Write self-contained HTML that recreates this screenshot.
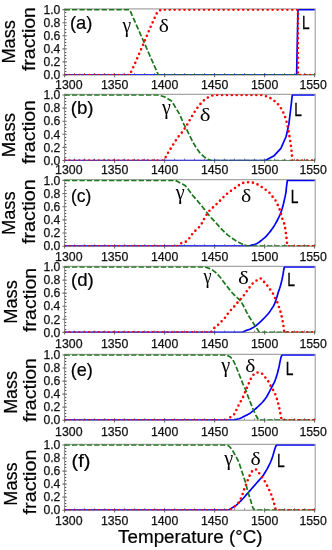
<!DOCTYPE html>
<html><head><meta charset="utf-8"><title>Mass fraction vs temperature</title>
<style>html,body{margin:0;padding:0;background:#fff;overflow:hidden}svg{display:block}</style></head>
<body><svg width="332" height="550" viewBox="0 0 332 550">
<defs><clipPath id="cp0"><rect x="64.6" y="8.9" width="251.6" height="66.2"/></clipPath><clipPath id="cp1"><rect x="64.6" y="94.3" width="251.6" height="66.3"/></clipPath><clipPath id="cp2"><rect x="64.6" y="179.7" width="251.6" height="66.6"/></clipPath><clipPath id="cp3"><rect x="64.6" y="266.3" width="251.6" height="66.2"/></clipPath><clipPath id="cp4"><rect x="64.6" y="354.3" width="251.6" height="66"/></clipPath><clipPath id="cp5"><rect x="64.6" y="444.3" width="251.6" height="66"/></clipPath></defs>
<rect width="332" height="550" fill="#fff"/>
<g><path d="M64.6 8.9H315.2V75" stroke="#a6a6a6" stroke-width="1.2" fill="none"/><path d="M64.6 8.4V75H315.2" stroke="#8a8a8a" stroke-width="1" fill="none"/><path d="M62.4 75H66.8 M62.4 61.92H66.8 M62.4 48.84H66.8 M62.4 35.76H66.8 M62.4 22.68H66.8 M62.4 9.6H66.8 M64.6 73V77.2 M114.6 73V77.2 M164.6 73V77.2 M214.6 73V77.2 M264.6 73V77.2 M314.6 73V77.2" stroke="#6e6e6e" stroke-width="1.1" fill="none"/><path d="M65 71.5H66.3 M65 68.5H66.3 M65 65.5H66.3 M65 58.5H66.3 M65 55.5H66.3 M65 52.5H66.3 M65 45.5H66.3 M65 42.5H66.3 M65 39.5H66.3 M65 32.5H66.3 M65 29.5H66.3 M65 25.5H66.3 M65 19.5H66.3 M65 16.5H66.3 M65 12.5H66.3" stroke="#505050" stroke-width="1" fill="none"/><text x="60.4" y="79.2" text-anchor="end" font-size="12.2" font-family="Liberation Sans, sans-serif" fill="#111" stroke="#111" stroke-width="0.25">0.0</text><text x="60.4" y="66.12" text-anchor="end" font-size="12.2" font-family="Liberation Sans, sans-serif" fill="#111" stroke="#111" stroke-width="0.25">0.2</text><text x="60.4" y="53.04" text-anchor="end" font-size="12.2" font-family="Liberation Sans, sans-serif" fill="#111" stroke="#111" stroke-width="0.25">0.4</text><text x="60.4" y="39.96" text-anchor="end" font-size="12.2" font-family="Liberation Sans, sans-serif" fill="#111" stroke="#111" stroke-width="0.25">0.6</text><text x="60.4" y="26.88" text-anchor="end" font-size="12.2" font-family="Liberation Sans, sans-serif" fill="#111" stroke="#111" stroke-width="0.25">0.8</text><text x="60.4" y="13.8" text-anchor="end" font-size="12.2" font-family="Liberation Sans, sans-serif" fill="#111" stroke="#111" stroke-width="0.25">1.0</text><text x="68.8" y="89.3" text-anchor="middle" font-size="12.3" font-family="Liberation Sans, sans-serif" textLength="27.4" lengthAdjust="spacingAndGlyphs" fill="#111" stroke="#111" stroke-width="0.25">1300</text><text x="114.6" y="89.3" text-anchor="middle" font-size="12.3" font-family="Liberation Sans, sans-serif" textLength="27.4" lengthAdjust="spacingAndGlyphs" fill="#111" stroke="#111" stroke-width="0.25">1350</text><text x="164.6" y="89.3" text-anchor="middle" font-size="12.3" font-family="Liberation Sans, sans-serif" textLength="27.4" lengthAdjust="spacingAndGlyphs" fill="#111" stroke="#111" stroke-width="0.25">1400</text><text x="214.6" y="89.3" text-anchor="middle" font-size="12.3" font-family="Liberation Sans, sans-serif" textLength="27.4" lengthAdjust="spacingAndGlyphs" fill="#111" stroke="#111" stroke-width="0.25">1450</text><text x="264.6" y="89.3" text-anchor="middle" font-size="12.3" font-family="Liberation Sans, sans-serif" textLength="27.4" lengthAdjust="spacingAndGlyphs" fill="#111" stroke="#111" stroke-width="0.25">1500</text><text x="313.1" y="89.3" text-anchor="middle" font-size="12.3" font-family="Liberation Sans, sans-serif" textLength="27.4" lengthAdjust="spacingAndGlyphs" fill="#111" stroke="#111" stroke-width="0.25">1550</text><g clip-path="url(#cp0)"><path d="M64.6 75 L296.6 75 L298 9.6 L314.6 9.6" stroke="#0000ff" stroke-width="1.7" fill="none" stroke-linejoin="round"/><path d="M64.6 9.6 L129.6 9.6 L158.4 75 L314.6 75" stroke="#1a761a" stroke-width="1.7" fill="none" stroke-dasharray="5.3 2.1"/><path d="M64.6 75 L129.6 75 L135 63.4 L143.6 43.5 L150.9 26.2 L157.5 11.6 L161.5 9.6 L297.9 9.6 L297.9 75 L314.6 75" stroke="#ff0000" stroke-width="2.6" fill="none" stroke-dasharray="0 4.9" stroke-linecap="round"/></g><path d="M74.6 73.2V74.4 M84.6 73.2V74.4 M94.6 73.2V74.4 M104.6 73.2V74.4 M124.6 73.2V74.4 M134.6 73.2V74.4 M144.6 73.2V74.4 M154.6 73.2V74.4 M174.6 73.2V74.4 M184.6 73.2V74.4 M194.6 73.2V74.4 M204.6 73.2V74.4 M224.6 73.2V74.4 M234.6 73.2V74.4 M244.6 73.2V74.4 M254.6 73.2V74.4 M274.6 73.2V74.4 M284.6 73.2V74.4 M294.6 73.2V74.4 M304.6 73.2V74.4" stroke="#4a4a66" stroke-width="0.9" fill="none"/><text x="69.9" y="29.04" font-size="19" font-family="Liberation Sans, sans-serif" textLength="22.44" lengthAdjust="spacingAndGlyphs" fill="#000" stroke="#000" stroke-width="0.2">(a)</text><text x="122.5" y="32.18" font-size="21" font-family="Liberation Serif, serif" textLength="8.63" lengthAdjust="spacingAndGlyphs" fill="#000">γ</text><text x="158.74" y="31.72" font-size="19.2" font-family="Liberation Serif, serif" textLength="10.15" lengthAdjust="spacingAndGlyphs" fill="#000">δ</text><text x="302.06" y="29.48" font-size="18.5" font-family="Liberation Sans, sans-serif" textLength="7.59" lengthAdjust="spacingAndGlyphs" fill="#000" stroke="#000" stroke-width="0.3">L</text><text transform="translate(15.1 62.1) rotate(-90)" x="-1.46" y="0" font-size="18" font-family="Liberation Sans, sans-serif" textLength="43.47" lengthAdjust="spacingAndGlyphs" fill="#000" stroke="#000" stroke-width="0.2">Mass</text><text transform="translate(35.1 70.9) rotate(-90)" x="-0.2" y="0" font-size="18" font-family="Liberation Sans, sans-serif" textLength="64.05" lengthAdjust="spacingAndGlyphs" fill="#000" stroke="#000" stroke-width="0.2">fraction</text></g>
<g><path d="M64.6 94.3H315.2V160.5" stroke="#a6a6a6" stroke-width="1.2" fill="none"/><path d="M64.6 93.8V160.5H315.2" stroke="#8a8a8a" stroke-width="1" fill="none"/><path d="M62.4 160.5H66.8 M62.4 147.4H66.8 M62.4 134.3H66.8 M62.4 121.2H66.8 M62.4 108.1H66.8 M62.4 95H66.8 M64.6 158.5V162.7 M114.6 158.5V162.7 M164.6 158.5V162.7 M214.6 158.5V162.7 M264.6 158.5V162.7 M314.6 158.5V162.7" stroke="#6e6e6e" stroke-width="1.1" fill="none"/><path d="M65 157.5H66.3 M65 153.5H66.3 M65 150.5H66.3 M65 144.5H66.3 M65 140.5H66.3 M65 137.5H66.3 M65 131.5H66.3 M65 127.5H66.3 M65 124.5H66.3 M65 117.5H66.3 M65 114.5H66.3 M65 111.5H66.3 M65 104.5H66.3 M65 101.5H66.3 M65 98.5H66.3" stroke="#505050" stroke-width="1" fill="none"/><text x="60.4" y="164.7" text-anchor="end" font-size="12.2" font-family="Liberation Sans, sans-serif" fill="#111" stroke="#111" stroke-width="0.25">0.0</text><text x="60.4" y="151.6" text-anchor="end" font-size="12.2" font-family="Liberation Sans, sans-serif" fill="#111" stroke="#111" stroke-width="0.25">0.2</text><text x="60.4" y="138.5" text-anchor="end" font-size="12.2" font-family="Liberation Sans, sans-serif" fill="#111" stroke="#111" stroke-width="0.25">0.4</text><text x="60.4" y="125.4" text-anchor="end" font-size="12.2" font-family="Liberation Sans, sans-serif" fill="#111" stroke="#111" stroke-width="0.25">0.6</text><text x="60.4" y="112.3" text-anchor="end" font-size="12.2" font-family="Liberation Sans, sans-serif" fill="#111" stroke="#111" stroke-width="0.25">0.8</text><text x="60.4" y="99.2" text-anchor="end" font-size="12.2" font-family="Liberation Sans, sans-serif" fill="#111" stroke="#111" stroke-width="0.25">1.0</text><text x="68.8" y="174.4" text-anchor="middle" font-size="12.3" font-family="Liberation Sans, sans-serif" textLength="27.4" lengthAdjust="spacingAndGlyphs" fill="#111" stroke="#111" stroke-width="0.25">1300</text><text x="114.6" y="174.4" text-anchor="middle" font-size="12.3" font-family="Liberation Sans, sans-serif" textLength="27.4" lengthAdjust="spacingAndGlyphs" fill="#111" stroke="#111" stroke-width="0.25">1350</text><text x="164.6" y="174.4" text-anchor="middle" font-size="12.3" font-family="Liberation Sans, sans-serif" textLength="27.4" lengthAdjust="spacingAndGlyphs" fill="#111" stroke="#111" stroke-width="0.25">1400</text><text x="214.6" y="174.4" text-anchor="middle" font-size="12.3" font-family="Liberation Sans, sans-serif" textLength="27.4" lengthAdjust="spacingAndGlyphs" fill="#111" stroke="#111" stroke-width="0.25">1450</text><text x="264.6" y="174.4" text-anchor="middle" font-size="12.3" font-family="Liberation Sans, sans-serif" textLength="27.4" lengthAdjust="spacingAndGlyphs" fill="#111" stroke="#111" stroke-width="0.25">1500</text><text x="313.1" y="174.4" text-anchor="middle" font-size="12.3" font-family="Liberation Sans, sans-serif" textLength="27.4" lengthAdjust="spacingAndGlyphs" fill="#111" stroke="#111" stroke-width="0.25">1550</text><g clip-path="url(#cp1)"><path d="M64.6 160.5 L265.2 160.5 L273.7 156.1 L280.9 148.3 L286.1 136.5 L288.8 124.7 L290.7 109 L292.3 95 L314.6 95" stroke="#0000ff" stroke-width="1.7" fill="none" stroke-linejoin="round"/><path d="M64.6 95 L157.8 95 L163.6 96.5 L167.8 98.8 L171.4 101 L174.2 105.2 L176.1 108.6 L178 111.6 L179.8 114.6 L183.9 124.5 L186.2 128.6 L188.8 133.8 L192.6 141.5 L196.5 148.2 L200.3 153.5 L204.2 156.9 L208.1 159.3 L210.8 160.5 L314.6 160.5" stroke="#1a761a" stroke-width="1.7" fill="none" stroke-dasharray="5.3 2.1"/><path d="M64.6 160.5 L65.6 160.5 L66.59 160.5 L67.59 160.5 L68.58 160.5 L69.58 160.5 L70.58 160.5 L71.57 160.5 L72.57 160.5 L73.56 160.5 L74.56 160.5 L75.56 160.5 L76.55 160.5 L77.55 160.5 L78.54 160.5 L79.54 160.5 L80.54 160.5 L81.53 160.5 L82.53 160.5 L83.52 160.5 L84.52 160.5 L85.52 160.5 L86.51 160.5 L87.51 160.5 L88.5 160.5 L89.5 160.5 L90.49 160.5 L91.49 160.5 L92.49 160.5 L93.48 160.5 L94.48 160.5 L95.47 160.5 L96.47 160.5 L97.47 160.5 L98.46 160.5 L99.46 160.5 L100.45 160.5 L101.45 160.5 L102.45 160.5 L103.44 160.5 L104.44 160.5 L105.43 160.5 L106.43 160.5 L107.43 160.5 L108.42 160.5 L109.42 160.5 L110.41 160.5 L111.41 160.5 L112.41 160.5 L113.4 160.5 L114.4 160.5 L115.39 160.5 L116.39 160.5 L117.39 160.5 L118.38 160.5 L119.38 160.5 L120.37 160.5 L121.37 160.5 L122.37 160.5 L123.36 160.5 L124.36 160.5 L125.35 160.5 L126.35 160.5 L127.35 160.5 L128.34 160.5 L129.34 160.5 L130.33 160.5 L131.33 160.5 L132.33 160.5 L133.32 160.5 L134.32 160.5 L135.31 160.5 L136.31 160.5 L137.31 160.5 L138.3 160.5 L139.3 160.5 L140.29 160.5 L141.29 160.5 L142.28 160.5 L143.28 160.5 L144.28 160.5 L145.27 160.5 L146.27 160.5 L147.26 160.5 L148.26 160.5 L149.26 160.5 L150.25 160.5 L151.25 160.5 L152.24 160.5 L153.24 160.5 L154.24 160.5 L155.23 160.5 L156.23 160.5 L157.22 160.5 L158.22 160.5 L159.22 160.5 L160.21 160.5 L161.21 160.5 L162.2 160.5 L163.2 160.5 L164.2 159.82 L165.2 158.15 L166.2 156.09 L167.2 154.2 L168.12 152.71 L169.03 151.2 L169.95 149.67 L170.87 148.16 L171.78 146.66 L172.7 145.2 L173.6 143.79 L174.5 142.39 L175.4 141 L176.3 139.65 L177.2 138.34 L178.1 137.1 L179 135.95 L179.9 134.88 L180.8 133.83 L181.7 132.76 L182.6 131.6 L183.5 130.34 L184.4 129.02 L185.3 127.63 L186.2 126.2 L187.1 124.69 L188 123.1 L188.9 121.49 L189.8 119.9 L190.73 118.3 L191.65 116.7 L192.57 115.12 L193.5 113.6 L194.4 112.16 L195.3 110.74 L196.2 109.38 L197.1 108.1 L198 106.89 L198.9 105.73 L199.8 104.63 L200.7 103.6 L201.6 102.61 L202.5 101.67 L203.4 100.79 L204.3 100 L205.23 99.26 L206.15 98.58 L207.07 97.95 L208 97.4 L209 96.87 L210 96.4 L211 96 L211.88 95.67 L212.75 95.34 L213.62 95.1 L214.5 95 L215.48 95 L216.46 95 L217.44 95 L218.42 95 L219.4 95 L220.39 95 L221.37 95 L222.35 95 L223.33 95 L224.31 95 L225.29 95 L226.27 95 L227.25 95 L228.23 95 L229.21 95 L230.19 95 L231.17 95 L232.16 95 L233.14 95 L234.12 95 L235.1 95 L236.08 95 L237.06 95 L238.04 95 L239.02 95 L240 95 L240.98 95 L241.96 95 L242.94 95 L243.93 95 L244.91 95 L245.89 95 L246.87 95 L247.85 95 L248.83 95 L249.81 95 L250.79 95 L251.77 95 L252.75 95 L253.73 95 L254.71 95 L255.7 95 L256.68 95 L257.66 95 L258.64 95 L259.62 95 L260.6 95 L261.59 95.05 L262.58 95.2 L263.56 95.42 L264.55 95.71 L265.54 96.05 L266.52 96.42 L267.51 96.81 L268.5 97.2 L269.48 97.63 L270.45 98.13 L271.43 98.7 L272.4 99.35 L273.38 100.05 L274.35 100.82 L275.32 101.63 L276.3 102.5 L277.28 103.46 L278.27 104.55 L279.25 105.78 L280.23 107.15 L281.22 108.65 L282.2 110.3 L283.02 111.88 L283.85 113.72 L284.68 115.83 L285.5 118.2 L286.37 121.14 L287.23 124.63 L288.1 128.6 L289.1 134.08 L290.1 140.4 L290.75 144.64 L291.4 149.6 L292.4 160.5 L293.37 160.5 L294.33 160.5 L295.3 160.5 L296.26 160.5 L297.23 160.5 L298.19 160.5 L299.16 160.5 L300.12 160.5 L301.09 160.5 L302.05 160.5 L303.02 160.5 L303.98 160.5 L304.95 160.5 L305.91 160.5 L306.88 160.5 L307.84 160.5 L308.81 160.5 L309.77 160.5 L310.74 160.5 L311.7 160.5 L312.67 160.5 L313.63 160.5 L314.6 160.5" stroke="#ff0000" stroke-width="2.6" fill="none" stroke-dasharray="0 4.9" stroke-linecap="round"/></g><path d="M74.6 158.7V159.9 M84.6 158.7V159.9 M94.6 158.7V159.9 M104.6 158.7V159.9 M124.6 158.7V159.9 M134.6 158.7V159.9 M144.6 158.7V159.9 M154.6 158.7V159.9 M174.6 158.7V159.9 M184.6 158.7V159.9 M194.6 158.7V159.9 M204.6 158.7V159.9 M224.6 158.7V159.9 M234.6 158.7V159.9 M244.6 158.7V159.9 M254.6 158.7V159.9 M274.6 158.7V159.9 M284.6 158.7V159.9 M294.6 158.7V159.9 M304.6 158.7V159.9" stroke="#4a4a66" stroke-width="0.9" fill="none"/><text x="70.68" y="114.39" font-size="19" font-family="Liberation Sans, sans-serif" textLength="22.89" lengthAdjust="spacingAndGlyphs" fill="#000" stroke="#000" stroke-width="0.2">(b)</text><text x="162.1" y="114.17" font-size="21" font-family="Liberation Serif, serif" textLength="8.84" lengthAdjust="spacingAndGlyphs" fill="#000">γ</text><text x="199.69" y="121.27" font-size="19.2" font-family="Liberation Serif, serif" textLength="10.75" lengthAdjust="spacingAndGlyphs" fill="#000">δ</text><text x="294.16" y="115.53" font-size="18.5" font-family="Liberation Sans, sans-serif" textLength="7.59" lengthAdjust="spacingAndGlyphs" fill="#000" stroke="#000" stroke-width="0.3">L</text><text transform="translate(15.4 155.9) rotate(-90)" x="-1.48" y="0" font-size="18" font-family="Liberation Sans, sans-serif" textLength="44.31" lengthAdjust="spacingAndGlyphs" fill="#000" stroke="#000" stroke-width="0.2">Mass</text><text transform="translate(34.8 163.9) rotate(-90)" x="-0.2" y="0" font-size="18" font-family="Liberation Sans, sans-serif" textLength="64.05" lengthAdjust="spacingAndGlyphs" fill="#000" stroke="#000" stroke-width="0.2">fraction</text></g>
<g><path d="M64.6 179.7H315.2V246.2" stroke="#a6a6a6" stroke-width="1.2" fill="none"/><path d="M64.6 179.2V246.2H315.2" stroke="#8a8a8a" stroke-width="1" fill="none"/><path d="M62.4 246.2H66.8 M62.4 233.04H66.8 M62.4 219.88H66.8 M62.4 206.72H66.8 M62.4 193.56H66.8 M62.4 180.4H66.8 M64.6 244.2V248.4 M114.6 244.2V248.4 M164.6 244.2V248.4 M214.6 244.2V248.4 M264.6 244.2V248.4 M314.6 244.2V248.4" stroke="#6e6e6e" stroke-width="1.1" fill="none"/><path d="M65 242.5H66.3 M65 239.5H66.3 M65 236.5H66.3 M65 229.5H66.3 M65 226.5H66.3 M65 223.5H66.3 M65 216.5H66.3 M65 213.5H66.3 M65 210.5H66.3 M65 203.5H66.3 M65 200.5H66.3 M65 196.5H66.3 M65 190.5H66.3 M65 186.5H66.3 M65 183.5H66.3" stroke="#505050" stroke-width="1" fill="none"/><text x="60.4" y="250.4" text-anchor="end" font-size="12.2" font-family="Liberation Sans, sans-serif" fill="#111" stroke="#111" stroke-width="0.25">0.0</text><text x="60.4" y="237.24" text-anchor="end" font-size="12.2" font-family="Liberation Sans, sans-serif" fill="#111" stroke="#111" stroke-width="0.25">0.2</text><text x="60.4" y="224.08" text-anchor="end" font-size="12.2" font-family="Liberation Sans, sans-serif" fill="#111" stroke="#111" stroke-width="0.25">0.4</text><text x="60.4" y="210.92" text-anchor="end" font-size="12.2" font-family="Liberation Sans, sans-serif" fill="#111" stroke="#111" stroke-width="0.25">0.6</text><text x="60.4" y="197.76" text-anchor="end" font-size="12.2" font-family="Liberation Sans, sans-serif" fill="#111" stroke="#111" stroke-width="0.25">0.8</text><text x="60.4" y="184.6" text-anchor="end" font-size="12.2" font-family="Liberation Sans, sans-serif" fill="#111" stroke="#111" stroke-width="0.25">1.0</text><text x="68.8" y="260.6" text-anchor="middle" font-size="12.3" font-family="Liberation Sans, sans-serif" textLength="27.4" lengthAdjust="spacingAndGlyphs" fill="#111" stroke="#111" stroke-width="0.25">1300</text><text x="114.6" y="260.6" text-anchor="middle" font-size="12.3" font-family="Liberation Sans, sans-serif" textLength="27.4" lengthAdjust="spacingAndGlyphs" fill="#111" stroke="#111" stroke-width="0.25">1350</text><text x="164.6" y="260.6" text-anchor="middle" font-size="12.3" font-family="Liberation Sans, sans-serif" textLength="27.4" lengthAdjust="spacingAndGlyphs" fill="#111" stroke="#111" stroke-width="0.25">1400</text><text x="214.6" y="260.6" text-anchor="middle" font-size="12.3" font-family="Liberation Sans, sans-serif" textLength="27.4" lengthAdjust="spacingAndGlyphs" fill="#111" stroke="#111" stroke-width="0.25">1450</text><text x="264.6" y="260.6" text-anchor="middle" font-size="12.3" font-family="Liberation Sans, sans-serif" textLength="27.4" lengthAdjust="spacingAndGlyphs" fill="#111" stroke="#111" stroke-width="0.25">1500</text><text x="313.1" y="260.6" text-anchor="middle" font-size="12.3" font-family="Liberation Sans, sans-serif" textLength="27.4" lengthAdjust="spacingAndGlyphs" fill="#111" stroke="#111" stroke-width="0.25">1550</text><g clip-path="url(#cp2)"><path d="M64.6 246.2 L65.6 246.2 L66.6 246.2 L67.6 246.2 L68.6 246.2 L69.6 246.2 L70.6 246.2 L71.6 246.2 L72.6 246.2 L73.6 246.2 L74.59 246.2 L75.59 246.2 L76.59 246.2 L77.59 246.2 L78.59 246.2 L79.59 246.2 L80.59 246.2 L81.59 246.2 L82.59 246.2 L83.59 246.2 L84.59 246.2 L85.59 246.2 L86.59 246.2 L87.59 246.2 L88.59 246.2 L89.59 246.2 L90.59 246.2 L91.59 246.2 L92.58 246.2 L93.58 246.2 L94.58 246.2 L95.58 246.2 L96.58 246.2 L97.58 246.2 L98.58 246.2 L99.58 246.2 L100.58 246.2 L101.58 246.2 L102.58 246.2 L103.58 246.2 L104.58 246.2 L105.58 246.2 L106.58 246.2 L107.58 246.2 L108.58 246.2 L109.58 246.2 L110.57 246.2 L111.57 246.2 L112.57 246.2 L113.57 246.2 L114.57 246.2 L115.57 246.2 L116.57 246.2 L117.57 246.2 L118.57 246.2 L119.57 246.2 L120.57 246.2 L121.57 246.2 L122.57 246.2 L123.57 246.2 L124.57 246.2 L125.57 246.2 L126.57 246.2 L127.57 246.2 L128.56 246.2 L129.56 246.2 L130.56 246.2 L131.56 246.2 L132.56 246.2 L133.56 246.2 L134.56 246.2 L135.56 246.2 L136.56 246.2 L137.56 246.2 L138.56 246.2 L139.56 246.2 L140.56 246.2 L141.56 246.2 L142.56 246.2 L143.56 246.2 L144.56 246.2 L145.56 246.2 L146.55 246.2 L147.55 246.2 L148.55 246.2 L149.55 246.2 L150.55 246.2 L151.55 246.2 L152.55 246.2 L153.55 246.2 L154.55 246.2 L155.55 246.2 L156.55 246.2 L157.55 246.2 L158.55 246.2 L159.55 246.2 L160.55 246.2 L161.55 246.2 L162.55 246.2 L163.55 246.2 L164.55 246.2 L165.54 246.2 L166.54 246.2 L167.54 246.2 L168.54 246.2 L169.54 246.2 L170.54 246.2 L171.54 246.2 L172.54 246.2 L173.54 246.2 L174.54 246.2 L175.54 246.2 L176.54 246.2 L177.54 246.2 L178.54 246.2 L179.54 246.2 L180.54 246.2 L181.54 246.2 L182.54 246.2 L183.53 246.2 L184.53 246.2 L185.53 246.2 L186.53 246.2 L187.53 246.2 L188.53 246.2 L189.53 246.2 L190.53 246.2 L191.53 246.2 L192.53 246.2 L193.53 246.2 L194.53 246.2 L195.53 246.2 L196.53 246.2 L197.53 246.2 L198.53 246.2 L199.53 246.2 L200.53 246.2 L201.52 246.2 L202.52 246.2 L203.52 246.2 L204.52 246.2 L205.52 246.2 L206.52 246.2 L207.52 246.2 L208.52 246.2 L209.52 246.2 L210.52 246.2 L211.52 246.2 L212.52 246.2 L213.52 246.2 L214.52 246.2 L215.52 246.2 L216.52 246.2 L217.52 246.2 L218.52 246.2 L219.51 246.2 L220.51 246.2 L221.51 246.2 L222.51 246.2 L223.51 246.2 L224.51 246.2 L225.51 246.2 L226.51 246.2 L227.51 246.2 L228.51 246.2 L229.51 246.2 L230.51 246.2 L231.51 246.2 L232.51 246.2 L233.51 246.2 L234.51 246.2 L235.51 246.2 L236.51 246.2 L237.5 246.2 L238.5 246.2 L239.5 246.2 L240.5 246.2 L241.5 246.2 L242.5 246.2 L243.5 246.2 L244.5 246.2 L245.5 246.2 L246.5 246.2 L247.42 246.15 L248.33 246.02 L249.25 245.82 L250.17 245.59 L251.08 245.34 L252 245.1 L252.92 244.86 L253.84 244.6 L254.76 244.31 L255.68 243.98 L256.6 243.6 L257.5 243.14 L258.4 242.58 L259.3 241.95 L260.2 241.28 L261.1 240.6 L262 239.92 L262.9 239.2 L263.8 238.45 L264.7 237.65 L265.6 236.8 L266.5 235.88 L267.4 234.88 L268.3 233.83 L269.2 232.73 L270.1 231.6 L271.05 230.37 L272 229.09 L272.95 227.74 L273.9 226.3 L274.9 224.65 L275.9 222.86 L276.9 221 L277.9 219.14 L278.9 217.19 L279.9 215 L280.67 213.07 L281.43 210.91 L282.2 208.5 L283.15 204.98 L284.1 201 L285 197.18 L285.9 192.6 L286.65 185.38 L287.4 180.4 L288.37 180.4 L289.34 180.4 L290.31 180.4 L291.29 180.4 L292.26 180.4 L293.23 180.4 L294.2 180.4 L295.17 180.4 L296.14 180.4 L297.11 180.4 L298.09 180.4 L299.06 180.4 L300.03 180.4 L301 180.4 L301.97 180.4 L302.94 180.4 L303.91 180.4 L304.89 180.4 L305.86 180.4 L306.83 180.4 L307.8 180.4 L308.77 180.4 L309.74 180.4 L310.71 180.4 L311.69 180.4 L312.66 180.4 L313.63 180.4 L314.6 180.4" stroke="#0000ff" stroke-width="1.7" fill="none" stroke-linejoin="round"/><path d="M64.6 180.4 L65.6 180.4 L66.6 180.4 L67.6 180.4 L68.6 180.4 L69.6 180.4 L70.59 180.4 L71.59 180.4 L72.59 180.4 L73.59 180.4 L74.59 180.4 L75.59 180.4 L76.59 180.4 L77.59 180.4 L78.59 180.4 L79.59 180.4 L80.59 180.4 L81.58 180.4 L82.58 180.4 L83.58 180.4 L84.58 180.4 L85.58 180.4 L86.58 180.4 L87.58 180.4 L88.58 180.4 L89.58 180.4 L90.58 180.4 L91.58 180.4 L92.57 180.4 L93.57 180.4 L94.57 180.4 L95.57 180.4 L96.57 180.4 L97.57 180.4 L98.57 180.4 L99.57 180.4 L100.57 180.4 L101.57 180.4 L102.57 180.4 L103.56 180.4 L104.56 180.4 L105.56 180.4 L106.56 180.4 L107.56 180.4 L108.56 180.4 L109.56 180.4 L110.56 180.4 L111.56 180.4 L112.56 180.4 L113.56 180.4 L114.55 180.4 L115.55 180.4 L116.55 180.4 L117.55 180.4 L118.55 180.4 L119.55 180.4 L120.55 180.4 L121.55 180.4 L122.55 180.4 L123.55 180.4 L124.55 180.4 L125.54 180.4 L126.54 180.4 L127.54 180.4 L128.54 180.4 L129.54 180.4 L130.54 180.4 L131.54 180.4 L132.54 180.4 L133.54 180.4 L134.54 180.4 L135.54 180.4 L136.53 180.4 L137.53 180.4 L138.53 180.4 L139.53 180.4 L140.53 180.4 L141.53 180.4 L142.53 180.4 L143.53 180.4 L144.53 180.4 L145.53 180.4 L146.53 180.4 L147.52 180.4 L148.52 180.4 L149.52 180.4 L150.52 180.4 L151.52 180.4 L152.52 180.4 L153.52 180.4 L154.52 180.4 L155.52 180.4 L156.52 180.4 L157.52 180.4 L158.51 180.4 L159.51 180.4 L160.51 180.4 L161.51 180.4 L162.51 180.4 L163.51 180.4 L164.51 180.4 L165.51 180.4 L166.51 180.4 L167.51 180.4 L168.51 180.4 L169.5 180.4 L170.5 180.4 L171.5 180.4 L172.5 180.4 L173.5 180.4 L174.5 180.4 L175.38 180.52 L176.27 180.83 L177.15 181.28 L178.03 181.8 L178.92 182.33 L179.8 182.8 L180.67 183.2 L181.53 183.59 L182.4 183.98 L183.27 184.41 L184.13 184.91 L185 185.5 L185.9 186.35 L186.8 187.45 L187.7 188.6 L188.54 189.7 L189.38 190.89 L190.22 192.1 L191.06 193.29 L191.9 194.4 L192.82 195.53 L193.75 196.6 L194.68 197.64 L195.6 198.7 L196.38 199.6 L197.15 200.49 L197.92 201.39 L198.7 202.3 L199.62 203.4 L200.53 204.53 L201.45 205.66 L202.37 206.8 L203.28 207.95 L204.2 209.1 L205.2 210.37 L206.2 211.68 L207.2 212.98 L208.2 214.27 L209.2 215.52 L210.2 216.7 L211.06 217.65 L211.92 218.54 L212.78 219.41 L213.64 220.29 L214.5 221.2 L215.5 222.31 L216.5 223.46 L217.5 224.62 L218.5 225.78 L219.5 226.92 L220.5 228 L221.37 228.92 L222.24 229.82 L223.11 230.72 L223.99 231.59 L224.86 232.43 L225.73 233.24 L226.6 234 L227.6 234.83 L228.6 235.62 L229.6 236.37 L230.6 237.1 L231.6 237.81 L232.6 238.5 L233.6 239.19 L234.6 239.86 L235.6 240.52 L236.6 241.15 L237.6 241.75 L238.6 242.3 L239.6 242.82 L240.6 243.31 L241.6 243.77 L242.6 244.21 L243.6 244.62 L244.6 245 L245.57 245.39 L246.55 245.78 L247.53 246.08 L248.5 246.2 L249.49 246.2 L250.47 246.2 L251.46 246.2 L252.45 246.2 L253.43 246.2 L254.42 246.2 L255.41 246.2 L256.39 246.2 L257.38 246.2 L258.37 246.2 L259.35 246.2 L260.34 246.2 L261.33 246.2 L262.31 246.2 L263.3 246.2 L264.29 246.2 L265.27 246.2 L266.26 246.2 L267.24 246.2 L268.23 246.2 L269.22 246.2 L270.2 246.2 L271.19 246.2 L272.18 246.2 L273.16 246.2 L274.15 246.2 L275.14 246.2 L276.12 246.2 L277.11 246.2 L278.1 246.2 L279.08 246.2 L280.07 246.2 L281.06 246.2 L282.04 246.2 L283.03 246.2 L284.02 246.2 L285 246.2 L285.99 246.2 L286.98 246.2 L287.96 246.2 L288.95 246.2 L289.94 246.2 L290.92 246.2 L291.91 246.2 L292.9 246.2 L293.88 246.2 L294.87 246.2 L295.86 246.2 L296.84 246.2 L297.83 246.2 L298.81 246.2 L299.8 246.2 L300.79 246.2 L301.77 246.2 L302.76 246.2 L303.75 246.2 L304.73 246.2 L305.72 246.2 L306.71 246.2 L307.69 246.2 L308.68 246.2 L309.67 246.2 L310.65 246.2 L311.64 246.2 L312.63 246.2 L313.61 246.2 L314.6 246.2" stroke="#1a761a" stroke-width="1.7" fill="none" stroke-dasharray="5.3 2.1"/><path d="M64.6 246.2 L65.59 246.2 L66.59 246.2 L67.58 246.2 L68.58 246.2 L69.57 246.2 L70.57 246.2 L71.56 246.2 L72.56 246.2 L73.55 246.2 L74.55 246.2 L75.54 246.2 L76.54 246.2 L77.53 246.2 L78.53 246.2 L79.52 246.2 L80.52 246.2 L81.51 246.2 L82.5 246.2 L83.5 246.2 L84.49 246.2 L85.49 246.2 L86.48 246.2 L87.48 246.2 L88.47 246.2 L89.47 246.2 L90.46 246.2 L91.46 246.2 L92.45 246.2 L93.45 246.2 L94.44 246.2 L95.44 246.2 L96.43 246.2 L97.42 246.2 L98.42 246.2 L99.41 246.2 L100.41 246.2 L101.4 246.2 L102.4 246.2 L103.39 246.2 L104.39 246.2 L105.38 246.2 L106.38 246.2 L107.37 246.2 L108.37 246.2 L109.36 246.2 L110.36 246.2 L111.35 246.2 L112.35 246.2 L113.34 246.2 L114.33 246.2 L115.33 246.2 L116.32 246.2 L117.32 246.2 L118.31 246.2 L119.31 246.2 L120.3 246.2 L121.3 246.2 L122.29 246.2 L123.29 246.2 L124.28 246.2 L125.28 246.2 L126.27 246.2 L127.27 246.2 L128.26 246.2 L129.25 246.2 L130.25 246.2 L131.24 246.2 L132.24 246.2 L133.23 246.2 L134.23 246.2 L135.22 246.2 L136.22 246.2 L137.21 246.2 L138.21 246.2 L139.2 246.2 L140.2 246.2 L141.19 246.2 L142.19 246.2 L143.18 246.2 L144.18 246.2 L145.17 246.2 L146.16 246.2 L147.16 246.2 L148.15 246.2 L149.15 246.2 L150.14 246.2 L151.14 246.2 L152.13 246.2 L153.13 246.2 L154.12 246.2 L155.12 246.2 L156.11 246.2 L157.11 246.2 L158.1 246.2 L159.1 246.2 L160.09 246.2 L161.08 246.2 L162.08 246.2 L163.07 246.2 L164.07 246.2 L165.06 246.2 L166.06 246.2 L167.05 246.2 L168.05 246.2 L169.04 246.2 L170.04 246.2 L171.03 246.2 L172.03 246.2 L173.02 246.2 L174.02 246.2 L175.01 246.2 L176.01 246.2 L177 246.2 L177.92 245.93 L178.84 245.27 L179.76 244.42 L180.68 243.6 L181.6 243 L182.5 242.66 L183.4 242.4 L184.3 242.17 L185.2 241.89 L186.1 241.5 L187.03 240.85 L187.95 239.92 L188.88 238.83 L189.8 237.7 L190.58 236.64 L191.35 235.44 L192.12 234.25 L192.9 233.2 L193.82 232.18 L194.75 231.26 L195.68 230.39 L196.6 229.5 L197.55 228.6 L198.5 227.74 L199.45 226.8 L200.4 225.7 L201.3 224.33 L202.2 222.64 L203.1 220.81 L204 219 L204.9 217.4 L205.78 215.99 L206.67 214.62 L207.55 213.3 L208.43 212.06 L209.32 210.92 L210.2 209.9 L211.06 209.04 L211.92 208.28 L212.78 207.57 L213.64 206.86 L214.5 206.1 L215.45 205.2 L216.4 204.28 L217.35 203.35 L218.3 202.4 L219.23 201.46 L220.15 200.51 L221.07 199.55 L222 198.6 L222.95 197.62 L223.9 196.64 L224.85 195.68 L225.8 194.8 L226.75 193.99 L227.7 193.23 L228.65 192.5 L229.6 191.8 L230.53 191.15 L231.45 190.54 L232.38 189.93 L233.3 189.3 L234.25 188.61 L235.2 187.9 L236.15 187.19 L237.1 186.5 L238 185.84 L238.9 185.15 L239.8 184.5 L240.7 183.93 L241.6 183.5 L242.5 183.16 L243.4 182.83 L244.3 182.56 L245.2 182.37 L246.1 182.3 L247.02 182.3 L247.94 182.3 L248.86 182.3 L249.78 182.3 L250.7 182.3 L251.66 182.37 L252.62 182.57 L253.58 182.84 L254.54 183.17 L255.5 183.5 L256.42 183.86 L257.33 184.31 L258.25 184.81 L259.17 185.36 L260.08 185.93 L261 186.5 L261.9 187.07 L262.8 187.67 L263.7 188.3 L264.6 188.94 L265.5 189.6 L266.45 190.29 L267.4 190.99 L268.35 191.74 L269.3 192.6 L270.3 193.71 L271.3 195 L272.3 196.3 L273.3 197.5 L274.3 198.7 L275.3 200.1 L276.07 201.43 L276.83 202.96 L277.6 204.6 L278.33 206.21 L279.07 207.94 L279.8 209.9 L280.57 212.52 L281.33 215.51 L282.1 218.2 L282.87 220.15 L283.63 221.89 L284.4 224.2 L285.15 228.04 L285.9 233.2 L286.6 239.3 L287.3 246.2 L288.28 246.2 L289.25 246.2 L290.23 246.2 L291.2 246.2 L292.18 246.2 L293.15 246.2 L294.12 246.2 L295.1 246.2 L296.07 246.2 L297.05 246.2 L298.03 246.2 L299 246.2 L299.98 246.2 L300.95 246.2 L301.93 246.2 L302.9 246.2 L303.88 246.2 L304.85 246.2 L305.83 246.2 L306.8 246.2 L307.78 246.2 L308.75 246.2 L309.73 246.2 L310.7 246.2 L311.68 246.2 L312.65 246.2 L313.62 246.2 L314.6 246.2" stroke="#ff0000" stroke-width="2.6" fill="none" stroke-dasharray="0 4.9" stroke-linecap="round"/></g><path d="M74.6 244.4V245.6 M84.6 244.4V245.6 M94.6 244.4V245.6 M104.6 244.4V245.6 M124.6 244.4V245.6 M134.6 244.4V245.6 M144.6 244.4V245.6 M154.6 244.4V245.6 M174.6 244.4V245.6 M184.6 244.4V245.6 M194.6 244.4V245.6 M204.6 244.4V245.6 M224.6 244.4V245.6 M234.6 244.4V245.6 M244.6 244.4V245.6 M254.6 244.4V245.6 M274.6 244.4V245.6 M284.6 244.4V245.6 M294.6 244.4V245.6 M304.6 244.4V245.6" stroke="#4a4a66" stroke-width="0.9" fill="none"/><text x="71.06" y="201.59" font-size="19" font-family="Liberation Sans, sans-serif" textLength="20.29" lengthAdjust="spacingAndGlyphs" fill="#000" stroke="#000" stroke-width="0.2">(c)</text><text x="175.8" y="198.98" font-size="21" font-family="Liberation Serif, serif" textLength="8.95" lengthAdjust="spacingAndGlyphs" fill="#000">γ</text><text x="241.03" y="202.17" font-size="19.2" font-family="Liberation Serif, serif" textLength="10.27" lengthAdjust="spacingAndGlyphs" fill="#000">δ</text><text x="290.64" y="203.08" font-size="18.5" font-family="Liberation Sans, sans-serif" textLength="7.71" lengthAdjust="spacingAndGlyphs" fill="#000" stroke="#000" stroke-width="0.3">L</text><text transform="translate(15.2 233.6) rotate(-90)" x="-1.46" y="0" font-size="18" font-family="Liberation Sans, sans-serif" textLength="43.57" lengthAdjust="spacingAndGlyphs" fill="#000" stroke="#000" stroke-width="0.2">Mass</text><text transform="translate(34.7 243.8) rotate(-90)" x="-0.2" y="0" font-size="18" font-family="Liberation Sans, sans-serif" textLength="64.77" lengthAdjust="spacingAndGlyphs" fill="#000" stroke="#000" stroke-width="0.2">fraction</text></g>
<g><path d="M64.6 266.3H315.2V332.4" stroke="#a6a6a6" stroke-width="1.2" fill="none"/><path d="M64.6 265.8V332.4H315.2" stroke="#8a8a8a" stroke-width="1" fill="none"/><path d="M62.4 332.4H66.8 M62.4 319.32H66.8 M62.4 306.24H66.8 M62.4 293.16H66.8 M62.4 280.08H66.8 M62.4 267H66.8 M64.6 330.4V334.6 M114.6 330.4V334.6 M164.6 330.4V334.6 M214.6 330.4V334.6 M264.6 330.4V334.6 M314.6 330.4V334.6" stroke="#6e6e6e" stroke-width="1.1" fill="none"/><path d="M65 329.5H66.3 M65 325.5H66.3 M65 322.5H66.3 M65 316.5H66.3 M65 312.5H66.3 M65 309.5H66.3 M65 302.5H66.3 M65 299.5H66.3 M65 296.5H66.3 M65 289.5H66.3 M65 286.5H66.3 M65 283.5H66.3 M65 276.5H66.3 M65 273.5H66.3 M65 270.5H66.3" stroke="#505050" stroke-width="1" fill="none"/><text x="60.4" y="336.6" text-anchor="end" font-size="12.2" font-family="Liberation Sans, sans-serif" fill="#111" stroke="#111" stroke-width="0.25">0.0</text><text x="60.4" y="323.52" text-anchor="end" font-size="12.2" font-family="Liberation Sans, sans-serif" fill="#111" stroke="#111" stroke-width="0.25">0.2</text><text x="60.4" y="310.44" text-anchor="end" font-size="12.2" font-family="Liberation Sans, sans-serif" fill="#111" stroke="#111" stroke-width="0.25">0.4</text><text x="60.4" y="297.36" text-anchor="end" font-size="12.2" font-family="Liberation Sans, sans-serif" fill="#111" stroke="#111" stroke-width="0.25">0.6</text><text x="60.4" y="284.28" text-anchor="end" font-size="12.2" font-family="Liberation Sans, sans-serif" fill="#111" stroke="#111" stroke-width="0.25">0.8</text><text x="60.4" y="271.2" text-anchor="end" font-size="12.2" font-family="Liberation Sans, sans-serif" fill="#111" stroke="#111" stroke-width="0.25">1.0</text><text x="68.8" y="347.9" text-anchor="middle" font-size="12.3" font-family="Liberation Sans, sans-serif" textLength="27.4" lengthAdjust="spacingAndGlyphs" fill="#111" stroke="#111" stroke-width="0.25">1300</text><text x="114.6" y="347.9" text-anchor="middle" font-size="12.3" font-family="Liberation Sans, sans-serif" textLength="27.4" lengthAdjust="spacingAndGlyphs" fill="#111" stroke="#111" stroke-width="0.25">1350</text><text x="164.6" y="347.9" text-anchor="middle" font-size="12.3" font-family="Liberation Sans, sans-serif" textLength="27.4" lengthAdjust="spacingAndGlyphs" fill="#111" stroke="#111" stroke-width="0.25">1400</text><text x="214.6" y="347.9" text-anchor="middle" font-size="12.3" font-family="Liberation Sans, sans-serif" textLength="27.4" lengthAdjust="spacingAndGlyphs" fill="#111" stroke="#111" stroke-width="0.25">1450</text><text x="264.6" y="347.9" text-anchor="middle" font-size="12.3" font-family="Liberation Sans, sans-serif" textLength="27.4" lengthAdjust="spacingAndGlyphs" fill="#111" stroke="#111" stroke-width="0.25">1500</text><text x="313.1" y="347.9" text-anchor="middle" font-size="12.3" font-family="Liberation Sans, sans-serif" textLength="27.4" lengthAdjust="spacingAndGlyphs" fill="#111" stroke="#111" stroke-width="0.25">1550</text><g clip-path="url(#cp3)"><path d="M64.6 332.4 L65.6 332.4 L66.59 332.4 L67.59 332.4 L68.59 332.4 L69.58 332.4 L70.58 332.4 L71.58 332.4 L72.57 332.4 L73.57 332.4 L74.57 332.4 L75.56 332.4 L76.56 332.4 L77.56 332.4 L78.55 332.4 L79.55 332.4 L80.55 332.4 L81.54 332.4 L82.54 332.4 L83.54 332.4 L84.53 332.4 L85.53 332.4 L86.53 332.4 L87.52 332.4 L88.52 332.4 L89.52 332.4 L90.51 332.4 L91.51 332.4 L92.51 332.4 L93.5 332.4 L94.5 332.4 L95.49 332.4 L96.49 332.4 L97.49 332.4 L98.48 332.4 L99.48 332.4 L100.48 332.4 L101.47 332.4 L102.47 332.4 L103.47 332.4 L104.46 332.4 L105.46 332.4 L106.46 332.4 L107.45 332.4 L108.45 332.4 L109.45 332.4 L110.44 332.4 L111.44 332.4 L112.44 332.4 L113.43 332.4 L114.43 332.4 L115.43 332.4 L116.42 332.4 L117.42 332.4 L118.42 332.4 L119.41 332.4 L120.41 332.4 L121.41 332.4 L122.4 332.4 L123.4 332.4 L124.4 332.4 L125.39 332.4 L126.39 332.4 L127.39 332.4 L128.38 332.4 L129.38 332.4 L130.38 332.4 L131.37 332.4 L132.37 332.4 L133.37 332.4 L134.36 332.4 L135.36 332.4 L136.36 332.4 L137.35 332.4 L138.35 332.4 L139.35 332.4 L140.34 332.4 L141.34 332.4 L142.34 332.4 L143.33 332.4 L144.33 332.4 L145.33 332.4 L146.32 332.4 L147.32 332.4 L148.32 332.4 L149.31 332.4 L150.31 332.4 L151.31 332.4 L152.3 332.4 L153.3 332.4 L154.29 332.4 L155.29 332.4 L156.29 332.4 L157.28 332.4 L158.28 332.4 L159.28 332.4 L160.27 332.4 L161.27 332.4 L162.27 332.4 L163.26 332.4 L164.26 332.4 L165.26 332.4 L166.25 332.4 L167.25 332.4 L168.25 332.4 L169.24 332.4 L170.24 332.4 L171.24 332.4 L172.23 332.4 L173.23 332.4 L174.23 332.4 L175.22 332.4 L176.22 332.4 L177.22 332.4 L178.21 332.4 L179.21 332.4 L180.21 332.4 L181.2 332.4 L182.2 332.4 L183.2 332.4 L184.19 332.4 L185.19 332.4 L186.19 332.4 L187.18 332.4 L188.18 332.4 L189.18 332.4 L190.17 332.4 L191.17 332.4 L192.17 332.4 L193.16 332.4 L194.16 332.4 L195.16 332.4 L196.15 332.4 L197.15 332.4 L198.15 332.4 L199.14 332.4 L200.14 332.4 L201.14 332.4 L202.13 332.4 L203.13 332.4 L204.13 332.4 L205.12 332.4 L206.12 332.4 L207.12 332.4 L208.11 332.4 L209.11 332.4 L210.11 332.4 L211.1 332.4 L212.1 332.4 L213.09 332.4 L214.09 332.4 L215.09 332.4 L216.08 332.4 L217.08 332.4 L218.08 332.4 L219.07 332.4 L220.07 332.4 L221.07 332.4 L222.06 332.4 L223.06 332.4 L224.06 332.4 L225.05 332.4 L226.05 332.4 L227.05 332.4 L228.04 332.4 L229.04 332.4 L230.04 332.4 L231.03 332.4 L232.03 332.4 L233.03 332.4 L234.02 332.4 L235.02 332.4 L236.02 332.4 L237.01 332.4 L238.01 332.4 L239.01 332.4 L240 332.4 L241 332.4 L241.92 332.3 L242.83 332.03 L243.75 331.65 L244.67 331.22 L245.58 330.78 L246.5 330.4 L247.46 330.06 L248.42 329.73 L249.38 329.39 L250.34 329.02 L251.3 328.6 L252.26 328.1 L253.22 327.52 L254.18 326.89 L255.14 326.21 L256.1 325.5 L257.06 324.75 L258.02 323.94 L258.98 323.08 L259.94 322.2 L260.9 321.3 L261.86 320.39 L262.82 319.46 L263.78 318.51 L264.74 317.52 L265.7 316.5 L266.6 315.52 L267.5 314.5 L268.4 313.44 L269.3 312.3 L270.13 311.14 L270.97 309.89 L271.8 308.6 L272.53 307.49 L273.27 306.34 L274 305 L274.7 303.4 L275.4 301.52 L276.1 299.5 L276.8 297.29 L277.5 294.91 L278.2 292.6 L278.9 290.52 L279.6 288.51 L280.3 286.3 L281.1 283.35 L281.9 280 L282.55 276.88 L283.2 273.5 L283.8 269.47 L284.4 267 L285.37 267 L286.35 267 L287.32 267 L288.3 267 L289.27 267 L290.25 267 L291.22 267 L292.19 267 L293.17 267 L294.14 267 L295.12 267 L296.09 267 L297.06 267 L298.04 267 L299.01 267 L299.99 267 L300.96 267 L301.94 267 L302.91 267 L303.88 267 L304.86 267 L305.83 267 L306.81 267 L307.78 267 L308.75 267 L309.73 267 L310.7 267 L311.68 267 L312.65 267 L313.63 267 L314.6 267" stroke="#0000ff" stroke-width="1.7" fill="none" stroke-linejoin="round"/><path d="M64.6 267 L65.6 267 L66.59 267 L67.59 267 L68.58 267 L69.58 267 L70.57 267 L71.57 267 L72.57 267 L73.56 267 L74.56 267 L75.55 267 L76.55 267 L77.54 267 L78.54 267 L79.54 267 L80.53 267 L81.53 267 L82.52 267 L83.52 267 L84.51 267 L85.51 267 L86.51 267 L87.5 267 L88.5 267 L89.49 267 L90.49 267 L91.48 267 L92.48 267 L93.48 267 L94.47 267 L95.47 267 L96.46 267 L97.46 267 L98.45 267 L99.45 267 L100.45 267 L101.44 267 L102.44 267 L103.43 267 L104.43 267 L105.42 267 L106.42 267 L107.42 267 L108.41 267 L109.41 267 L110.4 267 L111.4 267 L112.39 267 L113.39 267 L114.39 267 L115.38 267 L116.38 267 L117.37 267 L118.37 267 L119.36 267 L120.36 267 L121.36 267 L122.35 267 L123.35 267 L124.34 267 L125.34 267 L126.33 267 L127.33 267 L128.33 267 L129.32 267 L130.32 267 L131.31 267 L132.31 267 L133.3 267 L134.3 267 L135.3 267 L136.29 267 L137.29 267 L138.28 267 L139.28 267 L140.27 267 L141.27 267 L142.27 267 L143.26 267 L144.26 267 L145.25 267 L146.25 267 L147.24 267 L148.24 267 L149.24 267 L150.23 267 L151.23 267 L152.22 267 L153.22 267 L154.21 267 L155.21 267 L156.21 267 L157.2 267 L158.2 267 L159.19 267 L160.19 267 L161.18 267 L162.18 267 L163.18 267 L164.17 267 L165.17 267 L166.16 267 L167.16 267 L168.15 267 L169.15 267 L170.15 267 L171.14 267 L172.14 267 L173.13 267 L174.13 267 L175.12 267 L176.12 267 L177.12 267 L178.11 267 L179.11 267 L180.1 267 L181.1 267 L182.09 267 L183.09 267 L184.09 267 L185.08 267 L186.08 267 L187.07 267 L188.07 267 L189.06 267 L190.06 267 L191.06 267 L192.05 267 L193.05 267 L194.04 267 L195.04 267 L196.03 267 L197.03 267 L198.03 267 L199.02 267 L200.02 267 L201.01 267 L202.01 267 L203 267 L204 267 L205 267.08 L206 267.29 L207 267.59 L208 267.97 L209 268.38 L210 268.8 L210.98 269.25 L211.96 269.78 L212.94 270.4 L213.92 271.07 L214.9 271.8 L215.74 272.5 L216.58 273.28 L217.42 274.14 L218.26 275.06 L219.1 276 L219.94 277.01 L220.78 278.1 L221.62 279.24 L222.46 280.38 L223.3 281.5 L224.14 282.59 L224.98 283.67 L225.82 284.74 L226.66 285.82 L227.5 286.9 L228.34 288 L229.18 289.12 L230.02 290.24 L230.86 291.31 L231.7 292.3 L232.6 293.28 L233.5 294.19 L234.4 295.07 L235.3 295.93 L236.2 296.8 L237.04 297.58 L237.88 298.3 L238.72 299.04 L239.56 299.85 L240.4 300.8 L241.3 302.07 L242.2 303.59 L243.1 305.24 L244 306.9 L244.93 308.66 L245.85 310.51 L246.77 312.36 L247.7 314.1 L248.6 315.68 L249.5 317.2 L250.4 318.67 L251.3 320.1 L252.2 321.49 L253.1 322.83 L254 324.16 L254.9 325.5 L255.8 326.88 L256.7 328.28 L257.6 329.66 L258.5 331 L259.5 332.4 L260.48 332.4 L261.47 332.4 L262.45 332.4 L263.44 332.4 L264.42 332.4 L265.4 332.4 L266.39 332.4 L267.37 332.4 L268.36 332.4 L269.34 332.4 L270.32 332.4 L271.31 332.4 L272.29 332.4 L273.27 332.4 L274.26 332.4 L275.24 332.4 L276.23 332.4 L277.21 332.4 L278.19 332.4 L279.18 332.4 L280.16 332.4 L281.15 332.4 L282.13 332.4 L283.11 332.4 L284.1 332.4 L285.08 332.4 L286.07 332.4 L287.05 332.4 L288.03 332.4 L289.02 332.4 L290 332.4 L290.99 332.4 L291.97 332.4 L292.95 332.4 L293.94 332.4 L294.92 332.4 L295.91 332.4 L296.89 332.4 L297.87 332.4 L298.86 332.4 L299.84 332.4 L300.83 332.4 L301.81 332.4 L302.79 332.4 L303.78 332.4 L304.76 332.4 L305.74 332.4 L306.73 332.4 L307.71 332.4 L308.7 332.4 L309.68 332.4 L310.66 332.4 L311.65 332.4 L312.63 332.4 L313.62 332.4 L314.6 332.4" stroke="#1a761a" stroke-width="1.7" fill="none" stroke-dasharray="5.3 2.1"/><path d="M64.6 332.4 L65.6 332.4 L66.6 332.4 L67.6 332.4 L68.6 332.4 L69.6 332.4 L70.6 332.4 L71.6 332.4 L72.59 332.4 L73.59 332.4 L74.59 332.4 L75.59 332.4 L76.59 332.4 L77.59 332.4 L78.59 332.4 L79.59 332.4 L80.59 332.4 L81.59 332.4 L82.59 332.4 L83.59 332.4 L84.59 332.4 L85.59 332.4 L86.58 332.4 L87.58 332.4 L88.58 332.4 L89.58 332.4 L90.58 332.4 L91.58 332.4 L92.58 332.4 L93.58 332.4 L94.58 332.4 L95.58 332.4 L96.58 332.4 L97.58 332.4 L98.58 332.4 L99.58 332.4 L100.58 332.4 L101.57 332.4 L102.57 332.4 L103.57 332.4 L104.57 332.4 L105.57 332.4 L106.57 332.4 L107.57 332.4 L108.57 332.4 L109.57 332.4 L110.57 332.4 L111.57 332.4 L112.57 332.4 L113.57 332.4 L114.57 332.4 L115.57 332.4 L116.56 332.4 L117.56 332.4 L118.56 332.4 L119.56 332.4 L120.56 332.4 L121.56 332.4 L122.56 332.4 L123.56 332.4 L124.56 332.4 L125.56 332.4 L126.56 332.4 L127.56 332.4 L128.56 332.4 L129.56 332.4 L130.55 332.4 L131.55 332.4 L132.55 332.4 L133.55 332.4 L134.55 332.4 L135.55 332.4 L136.55 332.4 L137.55 332.4 L138.55 332.4 L139.55 332.4 L140.55 332.4 L141.55 332.4 L142.55 332.4 L143.55 332.4 L144.55 332.4 L145.54 332.4 L146.54 332.4 L147.54 332.4 L148.54 332.4 L149.54 332.4 L150.54 332.4 L151.54 332.4 L152.54 332.4 L153.54 332.4 L154.54 332.4 L155.54 332.4 L156.54 332.4 L157.54 332.4 L158.54 332.4 L159.53 332.4 L160.53 332.4 L161.53 332.4 L162.53 332.4 L163.53 332.4 L164.53 332.4 L165.53 332.4 L166.53 332.4 L167.53 332.4 L168.53 332.4 L169.53 332.4 L170.53 332.4 L171.53 332.4 L172.53 332.4 L173.53 332.4 L174.52 332.4 L175.52 332.4 L176.52 332.4 L177.52 332.4 L178.52 332.4 L179.52 332.4 L180.52 332.4 L181.52 332.4 L182.52 332.4 L183.52 332.4 L184.52 332.4 L185.52 332.4 L186.52 332.4 L187.52 332.4 L188.52 332.4 L189.51 332.4 L190.51 332.4 L191.51 332.4 L192.51 332.4 L193.51 332.4 L194.51 332.4 L195.51 332.4 L196.51 332.4 L197.51 332.4 L198.51 332.4 L199.51 332.4 L200.51 332.4 L201.51 332.4 L202.51 332.4 L203.5 332.4 L204.5 332.4 L205.5 332.4 L206.5 332.4 L207.5 332.4 L208.5 332.4 L209.5 332.4 L210.5 332.4 L211.37 331.71 L212.23 330.27 L213.1 329 L214.03 328.16 L214.95 327.44 L215.88 326.76 L216.8 326 L217.75 325.1 L218.7 324.14 L219.65 323.16 L220.6 322.2 L221.55 321.31 L222.5 320.44 L223.45 319.53 L224.4 318.5 L225.27 317.31 L226.13 315.96 L227 314.7 L227.9 313.58 L228.8 312.53 L229.7 311.52 L230.6 310.5 L231.4 309.59 L232.2 308.7 L233 307.81 L233.8 306.9 L234.7 305.86 L235.6 304.8 L236.5 303.74 L237.4 302.7 L238.22 301.77 L239.05 300.84 L239.88 299.92 L240.7 299 L241.7 297.9 L242.7 296.79 L243.7 295.6 L244.67 294.3 L245.63 292.9 L246.6 291.5 L247.6 290.08 L248.6 288.67 L249.6 287.3 L250.38 286.25 L251.15 285.2 L251.92 284.23 L252.7 283.4 L253.6 282.61 L254.5 281.92 L255.4 281.3 L256.3 280.7 L257.12 280.1 L257.94 279.47 L258.76 278.89 L259.58 278.46 L260.4 278.3 L261.32 278.68 L262.25 279.61 L263.18 280.79 L264.1 281.9 L265 282.88 L265.9 283.9 L266.8 284.98 L267.7 286.1 L268.7 287.44 L269.7 288.85 L270.7 290.3 L271.53 291.47 L272.37 292.66 L273.2 294 L273.97 295.49 L274.73 297.16 L275.5 298.8 L276.23 300.2 L276.97 301.59 L277.7 303.2 L278.45 305.44 L279.2 307.9 L280 310.2 L280.8 312.7 L281.35 314.92 L281.9 317.4 L282.9 322.2 L283.7 327.5 L284.2 332.4 L285.18 332.4 L286.16 332.4 L287.14 332.4 L288.12 332.4 L289.1 332.4 L290.08 332.4 L291.06 332.4 L292.05 332.4 L293.03 332.4 L294.01 332.4 L294.99 332.4 L295.97 332.4 L296.95 332.4 L297.93 332.4 L298.91 332.4 L299.89 332.4 L300.87 332.4 L301.85 332.4 L302.83 332.4 L303.81 332.4 L304.79 332.4 L305.77 332.4 L306.75 332.4 L307.74 332.4 L308.72 332.4 L309.7 332.4 L310.68 332.4 L311.66 332.4 L312.64 332.4 L313.62 332.4 L314.6 332.4" stroke="#ff0000" stroke-width="2.6" fill="none" stroke-dasharray="0 4.9" stroke-linecap="round"/></g><path d="M74.6 330.6V331.8 M84.6 330.6V331.8 M94.6 330.6V331.8 M104.6 330.6V331.8 M124.6 330.6V331.8 M134.6 330.6V331.8 M144.6 330.6V331.8 M154.6 330.6V331.8 M174.6 330.6V331.8 M184.6 330.6V331.8 M194.6 330.6V331.8 M204.6 330.6V331.8 M224.6 330.6V331.8 M234.6 330.6V331.8 M244.6 330.6V331.8 M254.6 330.6V331.8 M274.6 330.6V331.8 M284.6 330.6V331.8 M294.6 330.6V331.8 M304.6 330.6V331.8" stroke="#4a4a66" stroke-width="0.9" fill="none"/><text x="70.98" y="286.29" font-size="19" font-family="Liberation Sans, sans-serif" textLength="22.78" lengthAdjust="spacingAndGlyphs" fill="#000" stroke="#000" stroke-width="0.2">(d)</text><text x="203.6" y="283.43" font-size="21" font-family="Liberation Serif, serif" textLength="8.1" lengthAdjust="spacingAndGlyphs" fill="#000">γ</text><text x="238.08" y="284.07" font-size="19.2" font-family="Liberation Serif, serif" textLength="10.88" lengthAdjust="spacingAndGlyphs" fill="#000">δ</text><text x="287.14" y="285.83" font-size="18.5" font-family="Liberation Sans, sans-serif" textLength="7.71" lengthAdjust="spacingAndGlyphs" fill="#000" stroke="#000" stroke-width="0.3">L</text><text transform="translate(16.6 322.2) rotate(-90)" x="-1.46" y="0" font-size="18" font-family="Liberation Sans, sans-serif" textLength="43.47" lengthAdjust="spacingAndGlyphs" fill="#000" stroke="#000" stroke-width="0.2">Mass</text><text transform="translate(35.9 331.7) rotate(-90)" x="-0.2" y="0" font-size="18" font-family="Liberation Sans, sans-serif" textLength="64.05" lengthAdjust="spacingAndGlyphs" fill="#000" stroke="#000" stroke-width="0.2">fraction</text></g>
<g><path d="M64.6 354.3H315.2V420.2" stroke="#a6a6a6" stroke-width="1.2" fill="none"/><path d="M64.6 353.8V420.2H315.2" stroke="#8a8a8a" stroke-width="1" fill="none"/><path d="M62.4 420.2H66.8 M62.4 407.16H66.8 M62.4 394.12H66.8 M62.4 381.08H66.8 M62.4 368.04H66.8 M62.4 355H66.8 M64.6 418.2V422.4 M114.6 418.2V422.4 M164.6 418.2V422.4 M214.6 418.2V422.4 M264.6 418.2V422.4 M314.6 418.2V422.4" stroke="#6e6e6e" stroke-width="1.1" fill="none"/><path d="M65 416.5H66.3 M65 413.5H66.3 M65 410.5H66.3 M65 403.5H66.3 M65 400.5H66.3 M65 397.5H66.3 M65 390.5H66.3 M65 387.5H66.3 M65 384.5H66.3 M65 377.5H66.3 M65 374.5H66.3 M65 371.5H66.3 M65 364.5H66.3 M65 361.5H66.3 M65 358.5H66.3" stroke="#505050" stroke-width="1" fill="none"/><text x="60.4" y="424.4" text-anchor="end" font-size="12.2" font-family="Liberation Sans, sans-serif" fill="#111" stroke="#111" stroke-width="0.25">0.0</text><text x="60.4" y="411.36" text-anchor="end" font-size="12.2" font-family="Liberation Sans, sans-serif" fill="#111" stroke="#111" stroke-width="0.25">0.2</text><text x="60.4" y="398.32" text-anchor="end" font-size="12.2" font-family="Liberation Sans, sans-serif" fill="#111" stroke="#111" stroke-width="0.25">0.4</text><text x="60.4" y="385.28" text-anchor="end" font-size="12.2" font-family="Liberation Sans, sans-serif" fill="#111" stroke="#111" stroke-width="0.25">0.6</text><text x="60.4" y="372.24" text-anchor="end" font-size="12.2" font-family="Liberation Sans, sans-serif" fill="#111" stroke="#111" stroke-width="0.25">0.8</text><text x="60.4" y="359.2" text-anchor="end" font-size="12.2" font-family="Liberation Sans, sans-serif" fill="#111" stroke="#111" stroke-width="0.25">1.0</text><text x="68.8" y="435.6" text-anchor="middle" font-size="12.3" font-family="Liberation Sans, sans-serif" textLength="27.4" lengthAdjust="spacingAndGlyphs" fill="#111" stroke="#111" stroke-width="0.25">1300</text><text x="114.6" y="435.6" text-anchor="middle" font-size="12.3" font-family="Liberation Sans, sans-serif" textLength="27.4" lengthAdjust="spacingAndGlyphs" fill="#111" stroke="#111" stroke-width="0.25">1350</text><text x="164.6" y="435.6" text-anchor="middle" font-size="12.3" font-family="Liberation Sans, sans-serif" textLength="27.4" lengthAdjust="spacingAndGlyphs" fill="#111" stroke="#111" stroke-width="0.25">1400</text><text x="214.6" y="435.6" text-anchor="middle" font-size="12.3" font-family="Liberation Sans, sans-serif" textLength="27.4" lengthAdjust="spacingAndGlyphs" fill="#111" stroke="#111" stroke-width="0.25">1450</text><text x="264.6" y="435.6" text-anchor="middle" font-size="12.3" font-family="Liberation Sans, sans-serif" textLength="27.4" lengthAdjust="spacingAndGlyphs" fill="#111" stroke="#111" stroke-width="0.25">1500</text><text x="313.1" y="435.6" text-anchor="middle" font-size="12.3" font-family="Liberation Sans, sans-serif" textLength="27.4" lengthAdjust="spacingAndGlyphs" fill="#111" stroke="#111" stroke-width="0.25">1550</text><g clip-path="url(#cp4)"><path d="M64.6 420.2 L65.6 420.2 L66.59 420.2 L67.59 420.2 L68.59 420.2 L69.59 420.2 L70.58 420.2 L71.58 420.2 L72.58 420.2 L73.57 420.2 L74.57 420.2 L75.57 420.2 L76.56 420.2 L77.56 420.2 L78.56 420.2 L79.56 420.2 L80.55 420.2 L81.55 420.2 L82.55 420.2 L83.54 420.2 L84.54 420.2 L85.54 420.2 L86.53 420.2 L87.53 420.2 L88.53 420.2 L89.53 420.2 L90.52 420.2 L91.52 420.2 L92.52 420.2 L93.51 420.2 L94.51 420.2 L95.51 420.2 L96.51 420.2 L97.5 420.2 L98.5 420.2 L99.5 420.2 L100.49 420.2 L101.49 420.2 L102.49 420.2 L103.48 420.2 L104.48 420.2 L105.48 420.2 L106.48 420.2 L107.47 420.2 L108.47 420.2 L109.47 420.2 L110.46 420.2 L111.46 420.2 L112.46 420.2 L113.46 420.2 L114.45 420.2 L115.45 420.2 L116.45 420.2 L117.44 420.2 L118.44 420.2 L119.44 420.2 L120.43 420.2 L121.43 420.2 L122.43 420.2 L123.43 420.2 L124.42 420.2 L125.42 420.2 L126.42 420.2 L127.41 420.2 L128.41 420.2 L129.41 420.2 L130.4 420.2 L131.4 420.2 L132.4 420.2 L133.4 420.2 L134.39 420.2 L135.39 420.2 L136.39 420.2 L137.38 420.2 L138.38 420.2 L139.38 420.2 L140.38 420.2 L141.37 420.2 L142.37 420.2 L143.37 420.2 L144.36 420.2 L145.36 420.2 L146.36 420.2 L147.35 420.2 L148.35 420.2 L149.35 420.2 L150.35 420.2 L151.34 420.2 L152.34 420.2 L153.34 420.2 L154.33 420.2 L155.33 420.2 L156.33 420.2 L157.32 420.2 L158.32 420.2 L159.32 420.2 L160.32 420.2 L161.31 420.2 L162.31 420.2 L163.31 420.2 L164.3 420.2 L165.3 420.2 L166.3 420.2 L167.3 420.2 L168.29 420.2 L169.29 420.2 L170.29 420.2 L171.28 420.2 L172.28 420.2 L173.28 420.2 L174.27 420.2 L175.27 420.2 L176.27 420.2 L177.27 420.2 L178.26 420.2 L179.26 420.2 L180.26 420.2 L181.25 420.2 L182.25 420.2 L183.25 420.2 L184.24 420.2 L185.24 420.2 L186.24 420.2 L187.24 420.2 L188.23 420.2 L189.23 420.2 L190.23 420.2 L191.22 420.2 L192.22 420.2 L193.22 420.2 L194.22 420.2 L195.21 420.2 L196.21 420.2 L197.21 420.2 L198.2 420.2 L199.2 420.2 L200.2 420.2 L201.19 420.2 L202.19 420.2 L203.19 420.2 L204.19 420.2 L205.18 420.2 L206.18 420.2 L207.18 420.2 L208.17 420.2 L209.17 420.2 L210.17 420.2 L211.17 420.2 L212.16 420.2 L213.16 420.2 L214.16 420.2 L215.15 420.2 L216.15 420.2 L217.15 420.2 L218.14 420.2 L219.14 420.2 L220.14 420.2 L221.14 420.2 L222.13 420.2 L223.13 420.2 L224.13 420.2 L225.12 420.2 L226.12 420.2 L227.12 420.2 L228.11 420.2 L229.11 420.2 L230.11 420.2 L231.11 420.2 L232.1 420.2 L233.1 420.2 L234.07 420.11 L235.05 419.88 L236.03 419.58 L237 419.3 L238 419.03 L239 418.74 L240 418.4 L240.96 418.02 L241.92 417.57 L242.88 417.09 L243.84 416.6 L244.8 416.1 L245.76 415.61 L246.72 415.13 L247.68 414.62 L248.64 414.08 L249.6 413.5 L250.53 412.87 L251.45 412.18 L252.38 411.45 L253.3 410.7 L254.26 409.91 L255.22 409.09 L256.18 408.25 L257.14 407.39 L258.1 406.5 L259.06 405.6 L260.02 404.7 L260.98 403.75 L261.94 402.76 L262.9 401.7 L263.8 400.63 L264.7 399.47 L265.6 398.23 L266.5 396.9 L267.5 395.22 L268.5 393.4 L269.35 391.83 L270.2 390.21 L271.05 388.56 L271.9 386.9 L272.9 385.01 L273.9 383.1 L274.9 380.9 L275.7 378.79 L276.5 376.36 L277.3 373.7 L278.2 370.34 L279.1 366.5 L279.7 363.42 L280.3 360.4 L280.9 357.73 L281.5 355.9 L282.4 355 L283.38 355 L284.35 355 L285.33 355 L286.3 355 L287.28 355 L288.25 355 L289.23 355 L290.21 355 L291.18 355 L292.16 355 L293.13 355 L294.11 355 L295.08 355 L296.06 355 L297.04 355 L298.01 355 L298.99 355 L299.96 355 L300.94 355 L301.92 355 L302.89 355 L303.87 355 L304.84 355 L305.82 355 L306.79 355 L307.77 355 L308.75 355 L309.72 355 L310.7 355 L311.67 355 L312.65 355 L313.62 355 L314.6 355" stroke="#0000ff" stroke-width="1.7" fill="none" stroke-linejoin="round"/><path d="M64.6 355 L65.6 355 L66.59 355 L67.59 355 L68.58 355 L69.58 355 L70.58 355 L71.57 355 L72.57 355 L73.57 355 L74.56 355 L75.56 355 L76.55 355 L77.55 355 L78.55 355 L79.54 355 L80.54 355 L81.54 355 L82.53 355 L83.53 355 L84.52 355 L85.52 355 L86.52 355 L87.51 355 L88.51 355 L89.51 355 L90.5 355 L91.5 355 L92.49 355 L93.49 355 L94.49 355 L95.48 355 L96.48 355 L97.48 355 L98.47 355 L99.47 355 L100.47 355 L101.46 355 L102.46 355 L103.45 355 L104.45 355 L105.45 355 L106.44 355 L107.44 355 L108.44 355 L109.43 355 L110.43 355 L111.42 355 L112.42 355 L113.42 355 L114.41 355 L115.41 355 L116.41 355 L117.4 355 L118.4 355 L119.39 355 L120.39 355 L121.39 355 L122.38 355 L123.38 355 L124.38 355 L125.37 355 L126.37 355 L127.36 355 L128.36 355 L129.36 355 L130.35 355 L131.35 355 L132.34 355 L133.34 355 L134.34 355 L135.33 355 L136.33 355 L137.33 355 L138.32 355 L139.32 355 L140.31 355 L141.31 355 L142.31 355 L143.3 355 L144.3 355 L145.3 355 L146.29 355 L147.29 355 L148.28 355 L149.28 355 L150.28 355 L151.27 355 L152.27 355 L153.27 355 L154.26 355 L155.26 355 L156.25 355 L157.25 355 L158.25 355 L159.24 355 L160.24 355 L161.24 355 L162.23 355 L163.23 355 L164.22 355 L165.22 355 L166.22 355 L167.21 355 L168.21 355 L169.21 355 L170.2 355 L171.2 355 L172.19 355 L173.19 355 L174.19 355 L175.18 355 L176.18 355 L177.18 355 L178.17 355 L179.17 355 L180.16 355 L181.16 355 L182.16 355 L183.15 355 L184.15 355 L185.15 355 L186.14 355 L187.14 355 L188.13 355 L189.13 355 L190.13 355 L191.12 355 L192.12 355 L193.12 355 L194.11 355 L195.11 355 L196.1 355 L197.1 355 L198.1 355 L199.09 355 L200.09 355 L201.09 355 L202.08 355 L203.08 355 L204.07 355 L205.07 355 L206.07 355 L207.06 355 L208.06 355 L209.06 355 L210.05 355 L211.05 355 L212.05 355 L213.04 355 L214.04 355 L215.03 355 L216.03 355 L217.03 355 L218.02 355 L219.02 355 L220.01 355 L221.01 355 L222.01 355 L223 355 L224 355 L225 355.06 L226 355.24 L227 355.52 L228 355.88 L229 356.31 L230 356.8 L230.78 357.37 L231.55 358.22 L232.32 359.26 L233.1 360.4 L233.9 361.8 L234.7 363.5 L235.5 365.3 L236.3 367.21 L237.1 369.26 L237.9 371.3 L238.7 373.3 L239.5 375.3 L240.3 377.3 L241.1 379.33 L241.9 381.36 L242.7 383.3 L243.53 385.15 L244.37 386.91 L245.2 388.8 L246.2 391.39 L247.2 394.18 L248.2 396.9 L249.15 399.37 L250.1 401.81 L251.05 404.19 L252 406.5 L252.93 408.72 L253.85 410.9 L254.77 412.98 L255.7 414.9 L256.53 416.52 L257.37 418.03 L258.2 419.3 L259 420.2 L259.99 420.2 L260.99 420.2 L261.98 420.2 L262.97 420.2 L263.96 420.2 L264.96 420.2 L265.95 420.2 L266.94 420.2 L267.94 420.2 L268.93 420.2 L269.92 420.2 L270.91 420.2 L271.91 420.2 L272.9 420.2 L273.89 420.2 L274.89 420.2 L275.88 420.2 L276.87 420.2 L277.86 420.2 L278.86 420.2 L279.85 420.2 L280.84 420.2 L281.84 420.2 L282.83 420.2 L283.82 420.2 L284.81 420.2 L285.81 420.2 L286.8 420.2 L287.79 420.2 L288.79 420.2 L289.78 420.2 L290.77 420.2 L291.76 420.2 L292.76 420.2 L293.75 420.2 L294.74 420.2 L295.74 420.2 L296.73 420.2 L297.72 420.2 L298.71 420.2 L299.71 420.2 L300.7 420.2 L301.69 420.2 L302.69 420.2 L303.68 420.2 L304.67 420.2 L305.66 420.2 L306.66 420.2 L307.65 420.2 L308.64 420.2 L309.64 420.2 L310.63 420.2 L311.62 420.2 L312.61 420.2 L313.61 420.2 L314.6 420.2" stroke="#1a761a" stroke-width="1.7" fill="none" stroke-dasharray="5.3 2.1"/><path d="M64.6 420.2 L65.6 420.2 L66.6 420.2 L67.6 420.2 L68.6 420.2 L69.6 420.2 L70.6 420.2 L71.6 420.2 L72.6 420.2 L73.59 420.2 L74.59 420.2 L75.59 420.2 L76.59 420.2 L77.59 420.2 L78.59 420.2 L79.59 420.2 L80.59 420.2 L81.59 420.2 L82.59 420.2 L83.59 420.2 L84.59 420.2 L85.59 420.2 L86.59 420.2 L87.59 420.2 L88.59 420.2 L89.58 420.2 L90.58 420.2 L91.58 420.2 L92.58 420.2 L93.58 420.2 L94.58 420.2 L95.58 420.2 L96.58 420.2 L97.58 420.2 L98.58 420.2 L99.58 420.2 L100.58 420.2 L101.58 420.2 L102.58 420.2 L103.58 420.2 L104.58 420.2 L105.57 420.2 L106.57 420.2 L107.57 420.2 L108.57 420.2 L109.57 420.2 L110.57 420.2 L111.57 420.2 L112.57 420.2 L113.57 420.2 L114.57 420.2 L115.57 420.2 L116.57 420.2 L117.57 420.2 L118.57 420.2 L119.57 420.2 L120.57 420.2 L121.56 420.2 L122.56 420.2 L123.56 420.2 L124.56 420.2 L125.56 420.2 L126.56 420.2 L127.56 420.2 L128.56 420.2 L129.56 420.2 L130.56 420.2 L131.56 420.2 L132.56 420.2 L133.56 420.2 L134.56 420.2 L135.56 420.2 L136.56 420.2 L137.55 420.2 L138.55 420.2 L139.55 420.2 L140.55 420.2 L141.55 420.2 L142.55 420.2 L143.55 420.2 L144.55 420.2 L145.55 420.2 L146.55 420.2 L147.55 420.2 L148.55 420.2 L149.55 420.2 L150.55 420.2 L151.55 420.2 L152.55 420.2 L153.54 420.2 L154.54 420.2 L155.54 420.2 L156.54 420.2 L157.54 420.2 L158.54 420.2 L159.54 420.2 L160.54 420.2 L161.54 420.2 L162.54 420.2 L163.54 420.2 L164.54 420.2 L165.54 420.2 L166.54 420.2 L167.54 420.2 L168.54 420.2 L169.53 420.2 L170.53 420.2 L171.53 420.2 L172.53 420.2 L173.53 420.2 L174.53 420.2 L175.53 420.2 L176.53 420.2 L177.53 420.2 L178.53 420.2 L179.53 420.2 L180.53 420.2 L181.53 420.2 L182.53 420.2 L183.53 420.2 L184.53 420.2 L185.52 420.2 L186.52 420.2 L187.52 420.2 L188.52 420.2 L189.52 420.2 L190.52 420.2 L191.52 420.2 L192.52 420.2 L193.52 420.2 L194.52 420.2 L195.52 420.2 L196.52 420.2 L197.52 420.2 L198.52 420.2 L199.52 420.2 L200.52 420.2 L201.51 420.2 L202.51 420.2 L203.51 420.2 L204.51 420.2 L205.51 420.2 L206.51 420.2 L207.51 420.2 L208.51 420.2 L209.51 420.2 L210.51 420.2 L211.51 420.2 L212.51 420.2 L213.51 420.2 L214.51 420.2 L215.51 420.2 L216.51 420.2 L217.5 420.2 L218.5 420.2 L219.5 420.2 L220.5 420.2 L221.5 420.2 L222.5 420.2 L223.5 420.2 L224.5 420.2 L225.5 420.2 L226.45 419.94 L227.4 419.31 L228.35 418.52 L229.3 417.8 L230.2 417.26 L231.1 416.76 L232 416.23 L232.9 415.6 L233.8 414.8 L234.75 413.42 L235.7 411.46 L236.65 409.26 L237.6 407.2 L238.4 405.6 L239.2 404.01 L240 402.5 L240.87 401.05 L241.73 399.68 L242.6 398.1 L243.5 395.93 L244.4 393.6 L245.4 391.28 L246.4 389 L247.35 386.76 L248.3 384.5 L249.25 382.16 L250.2 380 L251.1 378.26 L252 376.72 L252.9 375.5 L253.83 374.45 L254.75 373.49 L255.68 372.78 L256.6 372.5 L257.42 372.51 L258.24 372.55 L259.06 372.61 L259.88 372.7 L260.7 372.8 L261.6 373.25 L262.5 374.19 L263.4 375.32 L264.3 376.4 L265.1 377.23 L265.9 378.06 L266.7 378.96 L267.5 380 L268.37 381.44 L269.23 383.14 L270.1 384.8 L270.9 386.21 L271.7 387.6 L272.5 389 L273.3 390.36 L274.1 391.73 L274.9 393.3 L275.8 395.48 L276.7 398.1 L277.35 400.38 L278 402.9 L278.6 405.22 L279.2 407.7 L280.2 412.5 L281 416.8 L281.8 420.2 L282.79 420.2 L283.79 420.2 L284.78 420.2 L285.78 420.2 L286.77 420.2 L287.76 420.2 L288.76 420.2 L289.75 420.2 L290.75 420.2 L291.74 420.2 L292.73 420.2 L293.73 420.2 L294.72 420.2 L295.72 420.2 L296.71 420.2 L297.7 420.2 L298.7 420.2 L299.69 420.2 L300.68 420.2 L301.68 420.2 L302.67 420.2 L303.67 420.2 L304.66 420.2 L305.65 420.2 L306.65 420.2 L307.64 420.2 L308.64 420.2 L309.63 420.2 L310.62 420.2 L311.62 420.2 L312.61 420.2 L313.61 420.2 L314.6 420.2" stroke="#ff0000" stroke-width="2.6" fill="none" stroke-dasharray="0 4.9" stroke-linecap="round"/></g><path d="M74.6 418.4V419.6 M84.6 418.4V419.6 M94.6 418.4V419.6 M104.6 418.4V419.6 M124.6 418.4V419.6 M134.6 418.4V419.6 M144.6 418.4V419.6 M154.6 418.4V419.6 M174.6 418.4V419.6 M184.6 418.4V419.6 M194.6 418.4V419.6 M204.6 418.4V419.6 M224.6 418.4V419.6 M234.6 418.4V419.6 M244.6 418.4V419.6 M254.6 418.4V419.6 M274.6 418.4V419.6 M284.6 418.4V419.6 M294.6 418.4V419.6 M304.6 418.4V419.6" stroke="#4a4a66" stroke-width="0.9" fill="none"/><text x="70.71" y="375.79" font-size="19" font-family="Liberation Sans, sans-serif" textLength="22.11" lengthAdjust="spacingAndGlyphs" fill="#000" stroke="#000" stroke-width="0.2">(e)</text><text x="221.3" y="371.83" font-size="21" font-family="Liberation Serif, serif" textLength="8.95" lengthAdjust="spacingAndGlyphs" fill="#000">γ</text><text x="245.34" y="372.42" font-size="19.2" font-family="Liberation Serif, serif" textLength="10.15" lengthAdjust="spacingAndGlyphs" fill="#000">δ</text><text x="285.64" y="375.03" font-size="18.5" font-family="Liberation Sans, sans-serif" textLength="7.71" lengthAdjust="spacingAndGlyphs" fill="#000" stroke="#000" stroke-width="0.3">L</text><text transform="translate(16.9 412.4) rotate(-90)" x="-1.43" y="0" font-size="18" font-family="Liberation Sans, sans-serif" textLength="42.73" lengthAdjust="spacingAndGlyphs" fill="#000" stroke="#000" stroke-width="0.2">Mass</text><text transform="translate(36.1 421.9) rotate(-90)" x="-0.2" y="0" font-size="18" font-family="Liberation Sans, sans-serif" textLength="64.05" lengthAdjust="spacingAndGlyphs" fill="#000" stroke="#000" stroke-width="0.2">fraction</text></g>
<g><path d="M64.6 444.3H315.2V510.2" stroke="#a6a6a6" stroke-width="1.2" fill="none"/><path d="M64.6 443.8V510.2H315.2" stroke="#8a8a8a" stroke-width="1" fill="none"/><path d="M62.4 510.2H66.8 M62.4 497.16H66.8 M62.4 484.12H66.8 M62.4 471.08H66.8 M62.4 458.04H66.8 M62.4 445H66.8 M64.6 508.2V512.4 M114.6 508.2V512.4 M164.6 508.2V512.4 M214.6 508.2V512.4 M264.6 508.2V512.4 M314.6 508.2V512.4" stroke="#6e6e6e" stroke-width="1.1" fill="none"/><path d="M65 506.5H66.3 M65 503.5H66.3 M65 500.5H66.3 M65 493.5H66.3 M65 490.5H66.3 M65 487.5H66.3 M65 480.5H66.3 M65 477.5H66.3 M65 474.5H66.3 M65 467.5H66.3 M65 464.5H66.3 M65 461.5H66.3 M65 454.5H66.3 M65 451.5H66.3 M65 448.5H66.3" stroke="#505050" stroke-width="1" fill="none"/><text x="60.4" y="514.4" text-anchor="end" font-size="12.2" font-family="Liberation Sans, sans-serif" fill="#111" stroke="#111" stroke-width="0.25">0.0</text><text x="60.4" y="501.36" text-anchor="end" font-size="12.2" font-family="Liberation Sans, sans-serif" fill="#111" stroke="#111" stroke-width="0.25">0.2</text><text x="60.4" y="488.32" text-anchor="end" font-size="12.2" font-family="Liberation Sans, sans-serif" fill="#111" stroke="#111" stroke-width="0.25">0.4</text><text x="60.4" y="475.28" text-anchor="end" font-size="12.2" font-family="Liberation Sans, sans-serif" fill="#111" stroke="#111" stroke-width="0.25">0.6</text><text x="60.4" y="462.24" text-anchor="end" font-size="12.2" font-family="Liberation Sans, sans-serif" fill="#111" stroke="#111" stroke-width="0.25">0.8</text><text x="60.4" y="449.2" text-anchor="end" font-size="12.2" font-family="Liberation Sans, sans-serif" fill="#111" stroke="#111" stroke-width="0.25">1.0</text><text x="68.8" y="525.1" text-anchor="middle" font-size="12.3" font-family="Liberation Sans, sans-serif" textLength="27.4" lengthAdjust="spacingAndGlyphs" fill="#111" stroke="#111" stroke-width="0.25">1300</text><text x="114.6" y="525.1" text-anchor="middle" font-size="12.3" font-family="Liberation Sans, sans-serif" textLength="27.4" lengthAdjust="spacingAndGlyphs" fill="#111" stroke="#111" stroke-width="0.25">1350</text><text x="164.6" y="525.1" text-anchor="middle" font-size="12.3" font-family="Liberation Sans, sans-serif" textLength="27.4" lengthAdjust="spacingAndGlyphs" fill="#111" stroke="#111" stroke-width="0.25">1400</text><text x="214.6" y="525.1" text-anchor="middle" font-size="12.3" font-family="Liberation Sans, sans-serif" textLength="27.4" lengthAdjust="spacingAndGlyphs" fill="#111" stroke="#111" stroke-width="0.25">1450</text><text x="264.6" y="525.1" text-anchor="middle" font-size="12.3" font-family="Liberation Sans, sans-serif" textLength="27.4" lengthAdjust="spacingAndGlyphs" fill="#111" stroke="#111" stroke-width="0.25">1500</text><text x="313.1" y="525.1" text-anchor="middle" font-size="12.3" font-family="Liberation Sans, sans-serif" textLength="27.4" lengthAdjust="spacingAndGlyphs" fill="#111" stroke="#111" stroke-width="0.25">1550</text><g clip-path="url(#cp5)"><path d="M64.6 510.2 L65.6 510.2 L66.6 510.2 L67.6 510.2 L68.6 510.2 L69.6 510.2 L70.6 510.2 L71.6 510.2 L72.6 510.2 L73.59 510.2 L74.59 510.2 L75.59 510.2 L76.59 510.2 L77.59 510.2 L78.59 510.2 L79.59 510.2 L80.59 510.2 L81.59 510.2 L82.59 510.2 L83.59 510.2 L84.59 510.2 L85.59 510.2 L86.59 510.2 L87.59 510.2 L88.59 510.2 L89.58 510.2 L90.58 510.2 L91.58 510.2 L92.58 510.2 L93.58 510.2 L94.58 510.2 L95.58 510.2 L96.58 510.2 L97.58 510.2 L98.58 510.2 L99.58 510.2 L100.58 510.2 L101.58 510.2 L102.58 510.2 L103.58 510.2 L104.58 510.2 L105.57 510.2 L106.57 510.2 L107.57 510.2 L108.57 510.2 L109.57 510.2 L110.57 510.2 L111.57 510.2 L112.57 510.2 L113.57 510.2 L114.57 510.2 L115.57 510.2 L116.57 510.2 L117.57 510.2 L118.57 510.2 L119.57 510.2 L120.57 510.2 L121.57 510.2 L122.56 510.2 L123.56 510.2 L124.56 510.2 L125.56 510.2 L126.56 510.2 L127.56 510.2 L128.56 510.2 L129.56 510.2 L130.56 510.2 L131.56 510.2 L132.56 510.2 L133.56 510.2 L134.56 510.2 L135.56 510.2 L136.56 510.2 L137.56 510.2 L138.55 510.2 L139.55 510.2 L140.55 510.2 L141.55 510.2 L142.55 510.2 L143.55 510.2 L144.55 510.2 L145.55 510.2 L146.55 510.2 L147.55 510.2 L148.55 510.2 L149.55 510.2 L150.55 510.2 L151.55 510.2 L152.55 510.2 L153.55 510.2 L154.54 510.2 L155.54 510.2 L156.54 510.2 L157.54 510.2 L158.54 510.2 L159.54 510.2 L160.54 510.2 L161.54 510.2 L162.54 510.2 L163.54 510.2 L164.54 510.2 L165.54 510.2 L166.54 510.2 L167.54 510.2 L168.54 510.2 L169.54 510.2 L170.53 510.2 L171.53 510.2 L172.53 510.2 L173.53 510.2 L174.53 510.2 L175.53 510.2 L176.53 510.2 L177.53 510.2 L178.53 510.2 L179.53 510.2 L180.53 510.2 L181.53 510.2 L182.53 510.2 L183.53 510.2 L184.53 510.2 L185.53 510.2 L186.53 510.2 L187.52 510.2 L188.52 510.2 L189.52 510.2 L190.52 510.2 L191.52 510.2 L192.52 510.2 L193.52 510.2 L194.52 510.2 L195.52 510.2 L196.52 510.2 L197.52 510.2 L198.52 510.2 L199.52 510.2 L200.52 510.2 L201.52 510.2 L202.52 510.2 L203.51 510.2 L204.51 510.2 L205.51 510.2 L206.51 510.2 L207.51 510.2 L208.51 510.2 L209.51 510.2 L210.51 510.2 L211.51 510.2 L212.51 510.2 L213.51 510.2 L214.51 510.2 L215.51 510.2 L216.51 510.2 L217.51 510.2 L218.51 510.2 L219.5 510.2 L220.5 510.2 L221.5 510.2 L222.5 510.2 L223.5 510.2 L224.5 510.2 L225.5 510.2 L226.5 510.2 L227.5 510.2 L228.34 510.06 L229.18 509.68 L230.02 509.18 L230.86 508.62 L231.7 508.1 L232.62 507.58 L233.55 507.03 L234.47 506.44 L235.4 505.8 L236.3 505.09 L237.2 504.29 L238.1 503.45 L239 502.6 L239.9 501.74 L240.8 500.86 L241.7 499.94 L242.6 499 L243.5 498.01 L244.4 496.98 L245.3 495.94 L246.2 494.9 L247.15 493.82 L248.1 492.75 L249.05 491.68 L250 490.6 L251 489.46 L252 488.3 L253 487.15 L254 486 L255 484.85 L256 483.7 L257 482.55 L258 481.4 L258.96 480.33 L259.92 479.29 L260.88 478.23 L261.84 477.12 L262.8 475.9 L263.6 474.77 L264.4 473.55 L265.2 472.25 L266 470.9 L266.9 469.32 L267.8 467.65 L268.7 465.9 L269.47 464.37 L270.23 462.76 L271 461 L271.9 458.65 L272.8 456 L273.45 453.78 L274.1 451.5 L274.9 448.71 L275.7 446.5 L276.25 445.5 L276.8 445 L277.79 445 L278.79 445 L279.78 445 L280.78 445 L281.77 445 L282.77 445 L283.76 445 L284.76 445 L285.75 445 L286.75 445 L287.74 445 L288.74 445 L289.73 445 L290.73 445 L291.72 445 L292.72 445 L293.71 445 L294.71 445 L295.7 445 L296.69 445 L297.69 445 L298.68 445 L299.68 445 L300.67 445 L301.67 445 L302.66 445 L303.66 445 L304.65 445 L305.65 445 L306.64 445 L307.64 445 L308.63 445 L309.63 445 L310.62 445 L311.62 445 L312.61 445 L313.61 445 L314.6 445" stroke="#0000ff" stroke-width="1.7" fill="none" stroke-linejoin="round"/><path d="M64.6 445 L65.6 445 L66.59 445 L67.59 445 L68.58 445 L69.58 445 L70.58 445 L71.57 445 L72.57 445 L73.57 445 L74.56 445 L75.56 445 L76.55 445 L77.55 445 L78.55 445 L79.54 445 L80.54 445 L81.54 445 L82.53 445 L83.53 445 L84.52 445 L85.52 445 L86.52 445 L87.51 445 L88.51 445 L89.51 445 L90.5 445 L91.5 445 L92.49 445 L93.49 445 L94.49 445 L95.48 445 L96.48 445 L97.48 445 L98.47 445 L99.47 445 L100.47 445 L101.46 445 L102.46 445 L103.45 445 L104.45 445 L105.45 445 L106.44 445 L107.44 445 L108.44 445 L109.43 445 L110.43 445 L111.42 445 L112.42 445 L113.42 445 L114.41 445 L115.41 445 L116.41 445 L117.4 445 L118.4 445 L119.39 445 L120.39 445 L121.39 445 L122.38 445 L123.38 445 L124.38 445 L125.37 445 L126.37 445 L127.36 445 L128.36 445 L129.36 445 L130.35 445 L131.35 445 L132.34 445 L133.34 445 L134.34 445 L135.33 445 L136.33 445 L137.33 445 L138.32 445 L139.32 445 L140.31 445 L141.31 445 L142.31 445 L143.3 445 L144.3 445 L145.3 445 L146.29 445 L147.29 445 L148.28 445 L149.28 445 L150.28 445 L151.27 445 L152.27 445 L153.27 445 L154.26 445 L155.26 445 L156.25 445 L157.25 445 L158.25 445 L159.24 445 L160.24 445 L161.24 445 L162.23 445 L163.23 445 L164.22 445 L165.22 445 L166.22 445 L167.21 445 L168.21 445 L169.21 445 L170.2 445 L171.2 445 L172.19 445 L173.19 445 L174.19 445 L175.18 445 L176.18 445 L177.18 445 L178.17 445 L179.17 445 L180.16 445 L181.16 445 L182.16 445 L183.15 445 L184.15 445 L185.15 445 L186.14 445 L187.14 445 L188.13 445 L189.13 445 L190.13 445 L191.12 445 L192.12 445 L193.12 445 L194.11 445 L195.11 445 L196.1 445 L197.1 445 L198.1 445 L199.09 445 L200.09 445 L201.09 445 L202.08 445 L203.08 445 L204.07 445 L205.07 445 L206.07 445 L207.06 445 L208.06 445 L209.06 445 L210.05 445 L211.05 445 L212.05 445 L213.04 445 L214.04 445 L215.03 445 L216.03 445 L217.03 445 L218.02 445 L219.02 445 L220.01 445 L221.01 445 L222.01 445 L223 445 L224 445 L225 445.04 L226 445.17 L227 445.36 L228 445.6 L228.9 446.09 L229.8 446.96 L230.7 448.05 L231.6 449.2 L232.53 450.49 L233.45 451.99 L234.38 453.62 L235.3 455.3 L236.2 456.93 L237.1 458.62 L238 460.45 L238.9 462.5 L239.7 464.7 L240.5 467.2 L241.3 469.7 L242.1 472.09 L242.9 474.48 L243.7 476.9 L244.6 479.62 L245.5 482.5 L246.3 485.48 L247.1 488.68 L247.9 491.7 L248.9 495.05 L249.9 498.2 L250.9 501.3 L251.7 503.94 L252.5 506.55 L253.3 508.6 L254.3 510.2 L255.29 510.2 L256.28 510.2 L257.27 510.2 L258.25 510.2 L259.24 510.2 L260.23 510.2 L261.22 510.2 L262.21 510.2 L263.2 510.2 L264.19 510.2 L265.17 510.2 L266.16 510.2 L267.15 510.2 L268.14 510.2 L269.13 510.2 L270.12 510.2 L271.1 510.2 L272.09 510.2 L273.08 510.2 L274.07 510.2 L275.06 510.2 L276.05 510.2 L277.04 510.2 L278.02 510.2 L279.01 510.2 L280 510.2 L280.99 510.2 L281.98 510.2 L282.97 510.2 L283.96 510.2 L284.94 510.2 L285.93 510.2 L286.92 510.2 L287.91 510.2 L288.9 510.2 L289.89 510.2 L290.88 510.2 L291.86 510.2 L292.85 510.2 L293.84 510.2 L294.83 510.2 L295.82 510.2 L296.81 510.2 L297.8 510.2 L298.78 510.2 L299.77 510.2 L300.76 510.2 L301.75 510.2 L302.74 510.2 L303.73 510.2 L304.71 510.2 L305.7 510.2 L306.69 510.2 L307.68 510.2 L308.67 510.2 L309.66 510.2 L310.65 510.2 L311.63 510.2 L312.62 510.2 L313.61 510.2 L314.6 510.2" stroke="#1a761a" stroke-width="1.7" fill="none" stroke-dasharray="5.3 2.1"/><path d="M64.6 510.2 L65.6 510.2 L66.6 510.2 L67.6 510.2 L68.6 510.2 L69.6 510.2 L70.6 510.2 L71.6 510.2 L72.6 510.2 L73.59 510.2 L74.59 510.2 L75.59 510.2 L76.59 510.2 L77.59 510.2 L78.59 510.2 L79.59 510.2 L80.59 510.2 L81.59 510.2 L82.59 510.2 L83.59 510.2 L84.59 510.2 L85.59 510.2 L86.59 510.2 L87.59 510.2 L88.59 510.2 L89.58 510.2 L90.58 510.2 L91.58 510.2 L92.58 510.2 L93.58 510.2 L94.58 510.2 L95.58 510.2 L96.58 510.2 L97.58 510.2 L98.58 510.2 L99.58 510.2 L100.58 510.2 L101.58 510.2 L102.58 510.2 L103.58 510.2 L104.58 510.2 L105.57 510.2 L106.57 510.2 L107.57 510.2 L108.57 510.2 L109.57 510.2 L110.57 510.2 L111.57 510.2 L112.57 510.2 L113.57 510.2 L114.57 510.2 L115.57 510.2 L116.57 510.2 L117.57 510.2 L118.57 510.2 L119.57 510.2 L120.57 510.2 L121.57 510.2 L122.56 510.2 L123.56 510.2 L124.56 510.2 L125.56 510.2 L126.56 510.2 L127.56 510.2 L128.56 510.2 L129.56 510.2 L130.56 510.2 L131.56 510.2 L132.56 510.2 L133.56 510.2 L134.56 510.2 L135.56 510.2 L136.56 510.2 L137.56 510.2 L138.55 510.2 L139.55 510.2 L140.55 510.2 L141.55 510.2 L142.55 510.2 L143.55 510.2 L144.55 510.2 L145.55 510.2 L146.55 510.2 L147.55 510.2 L148.55 510.2 L149.55 510.2 L150.55 510.2 L151.55 510.2 L152.55 510.2 L153.55 510.2 L154.55 510.2 L155.54 510.2 L156.54 510.2 L157.54 510.2 L158.54 510.2 L159.54 510.2 L160.54 510.2 L161.54 510.2 L162.54 510.2 L163.54 510.2 L164.54 510.2 L165.54 510.2 L166.54 510.2 L167.54 510.2 L168.54 510.2 L169.54 510.2 L170.54 510.2 L171.53 510.2 L172.53 510.2 L173.53 510.2 L174.53 510.2 L175.53 510.2 L176.53 510.2 L177.53 510.2 L178.53 510.2 L179.53 510.2 L180.53 510.2 L181.53 510.2 L182.53 510.2 L183.53 510.2 L184.53 510.2 L185.53 510.2 L186.53 510.2 L187.53 510.2 L188.52 510.2 L189.52 510.2 L190.52 510.2 L191.52 510.2 L192.52 510.2 L193.52 510.2 L194.52 510.2 L195.52 510.2 L196.52 510.2 L197.52 510.2 L198.52 510.2 L199.52 510.2 L200.52 510.2 L201.52 510.2 L202.52 510.2 L203.52 510.2 L204.51 510.2 L205.51 510.2 L206.51 510.2 L207.51 510.2 L208.51 510.2 L209.51 510.2 L210.51 510.2 L211.51 510.2 L212.51 510.2 L213.51 510.2 L214.51 510.2 L215.51 510.2 L216.51 510.2 L217.51 510.2 L218.51 510.2 L219.51 510.2 L220.5 510.2 L221.5 510.2 L222.5 510.2 L223.5 510.2 L224.5 510.2 L225.5 510.2 L226.5 510.2 L227.5 510.2 L228.5 510.2 L229.27 509.99 L230.03 509.51 L230.8 509 L231.62 508.52 L232.44 508.03 L233.26 507.5 L234.08 506.93 L234.9 506.3 L235.8 505.54 L236.7 504.68 L237.6 503.71 L238.5 502.6 L239.27 501.47 L240.03 500.12 L240.8 498.6 L241.7 496.5 L242.6 494.1 L243.45 491.51 L244.3 488.9 L245.2 486.55 L246.1 484.3 L247 481.92 L247.9 479.6 L248.63 477.82 L249.37 476.12 L250.1 474.6 L250.83 473.2 L251.57 471.92 L252.3 471 L253.27 470.14 L254.23 469.47 L255.2 469.2 L256 469.5 L256.8 470.25 L257.6 471.22 L258.4 472.2 L259.17 473.18 L259.95 474.29 L260.73 475.46 L261.5 476.6 L262.5 477.96 L263.5 479.31 L264.5 480.8 L265.33 482.25 L266.17 483.85 L267 485.5 L267.73 486.96 L268.47 488.46 L269.2 490 L270.15 492 L271.1 494.2 L271.85 496.36 L272.6 498.7 L273.35 500.92 L274.1 503.3 L274.75 505.88 L275.4 508.5 L275.9 510.2 L276.89 510.2 L277.88 510.2 L278.88 510.2 L279.87 510.2 L280.86 510.2 L281.85 510.2 L282.85 510.2 L283.84 510.2 L284.83 510.2 L285.82 510.2 L286.82 510.2 L287.81 510.2 L288.8 510.2 L289.79 510.2 L290.78 510.2 L291.78 510.2 L292.77 510.2 L293.76 510.2 L294.75 510.2 L295.75 510.2 L296.74 510.2 L297.73 510.2 L298.72 510.2 L299.72 510.2 L300.71 510.2 L301.7 510.2 L302.69 510.2 L303.68 510.2 L304.68 510.2 L305.67 510.2 L306.66 510.2 L307.65 510.2 L308.65 510.2 L309.64 510.2 L310.63 510.2 L311.62 510.2 L312.62 510.2 L313.61 510.2 L314.6 510.2" stroke="#ff0000" stroke-width="2.6" fill="none" stroke-dasharray="0 4.9" stroke-linecap="round"/></g><path d="M74.6 508.4V509.6 M84.6 508.4V509.6 M94.6 508.4V509.6 M104.6 508.4V509.6 M124.6 508.4V509.6 M134.6 508.4V509.6 M144.6 508.4V509.6 M154.6 508.4V509.6 M174.6 508.4V509.6 M184.6 508.4V509.6 M194.6 508.4V509.6 M204.6 508.4V509.6 M224.6 508.4V509.6 M234.6 508.4V509.6 M244.6 508.4V509.6 M254.6 508.4V509.6 M274.6 508.4V509.6 M284.6 508.4V509.6 M294.6 508.4V509.6 M304.6 508.4V509.6" stroke="#4a4a66" stroke-width="0.9" fill="none"/><text x="71.49" y="466.79" font-size="19" font-family="Liberation Sans, sans-serif" textLength="18.99" lengthAdjust="spacingAndGlyphs" fill="#000" stroke="#000" stroke-width="0.2">(f)</text><text x="224.3" y="465.23" font-size="21" font-family="Liberation Serif, serif" textLength="8.95" lengthAdjust="spacingAndGlyphs" fill="#000">γ</text><text x="250.53" y="465.42" font-size="19.2" font-family="Liberation Serif, serif" textLength="10.27" lengthAdjust="spacingAndGlyphs" fill="#000">δ</text><text x="277.04" y="467.08" font-size="18.5" font-family="Liberation Sans, sans-serif" textLength="7.71" lengthAdjust="spacingAndGlyphs" fill="#000" stroke="#000" stroke-width="0.3">L</text><text transform="translate(16.5 504.2) rotate(-90)" x="-1.45" y="0" font-size="18" font-family="Liberation Sans, sans-serif" textLength="43.26" lengthAdjust="spacingAndGlyphs" fill="#000" stroke="#000" stroke-width="0.2">Mass</text><text transform="translate(36 514.3) rotate(-90)" x="-0.2" y="0" font-size="18" font-family="Liberation Sans, sans-serif" textLength="65.08" lengthAdjust="spacingAndGlyphs" fill="#000" stroke="#000" stroke-width="0.2">fraction</text></g>
<text x="118.12" y="542.83" font-size="17.6" font-family="Liberation Sans, sans-serif" textLength="144.4" lengthAdjust="spacingAndGlyphs" fill="#000" stroke="#000" stroke-width="0.2">Temperature (°C)</text>
</svg></body></html>
